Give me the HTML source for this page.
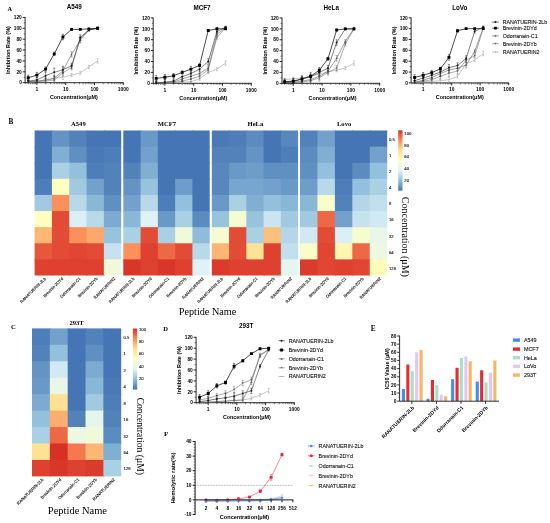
<!DOCTYPE html>
<html><head><meta charset="utf-8"><title>Figure</title>
<style>html,body{margin:0;padding:0;background:#fff}svg{display:block}</style></head>
<body>
<svg width="550" height="523" viewBox="0 0 550 523">
<rect width="550" height="523" fill="#fff"/>
<g>
<rect x="34.60" y="130.50" width="18.32" height="17.11" fill="#4575b4"/>
<rect x="51.92" y="130.50" width="18.32" height="17.11" fill="#6594c4"/>
<rect x="69.24" y="130.50" width="18.32" height="17.11" fill="#5382bb"/>
<rect x="86.56" y="130.50" width="18.32" height="17.11" fill="#4575b4"/>
<rect x="103.88" y="130.50" width="17.32" height="17.11" fill="#4575b4"/>
<rect x="34.60" y="146.61" width="18.32" height="17.11" fill="#4575b4"/>
<rect x="51.92" y="146.61" width="18.32" height="17.11" fill="#80afd2"/>
<rect x="69.24" y="146.61" width="18.32" height="17.11" fill="#6090c2"/>
<rect x="86.56" y="146.61" width="18.32" height="17.11" fill="#4a79b6"/>
<rect x="103.88" y="146.61" width="17.32" height="17.11" fill="#4e7eb9"/>
<rect x="34.60" y="162.72" width="18.32" height="17.11" fill="#4575b4"/>
<rect x="51.92" y="162.72" width="18.32" height="17.11" fill="#aad0e4"/>
<rect x="69.24" y="162.72" width="18.32" height="17.11" fill="#93c0dc"/>
<rect x="86.56" y="162.72" width="18.32" height="17.11" fill="#4e7eb9"/>
<rect x="103.88" y="162.72" width="17.32" height="17.11" fill="#5382bb"/>
<rect x="34.60" y="178.83" width="18.32" height="17.11" fill="#4e7eb9"/>
<rect x="51.92" y="178.83" width="18.32" height="17.11" fill="#ffffbf"/>
<rect x="69.24" y="178.83" width="18.32" height="17.11" fill="#a1c9e1"/>
<rect x="86.56" y="178.83" width="18.32" height="17.11" fill="#73a1cb"/>
<rect x="103.88" y="178.83" width="17.32" height="17.11" fill="#5382bb"/>
<rect x="34.60" y="194.94" width="18.32" height="17.11" fill="#a1c9e1"/>
<rect x="51.92" y="194.94" width="18.32" height="17.11" fill="#fc8f5a"/>
<rect x="69.24" y="194.94" width="18.32" height="17.11" fill="#b8d9ea"/>
<rect x="86.56" y="194.94" width="18.32" height="17.11" fill="#89b8d7"/>
<rect x="103.88" y="194.94" width="17.32" height="17.11" fill="#6090c2"/>
<rect x="34.60" y="211.06" width="18.32" height="17.11" fill="#ffffbf"/>
<rect x="51.92" y="211.06" width="18.32" height="17.11" fill="#e24c36"/>
<rect x="69.24" y="211.06" width="18.32" height="17.11" fill="#daeff6"/>
<rect x="86.56" y="211.06" width="18.32" height="17.11" fill="#b8d9ea"/>
<rect x="103.88" y="211.06" width="17.32" height="17.11" fill="#7caad0"/>
<rect x="34.60" y="227.17" width="18.32" height="17.11" fill="#fdb674"/>
<rect x="51.92" y="227.17" width="18.32" height="17.11" fill="#e24c36"/>
<rect x="69.24" y="227.17" width="18.32" height="17.11" fill="#fc8f5a"/>
<rect x="86.56" y="227.17" width="18.32" height="17.11" fill="#fda86b"/>
<rect x="103.88" y="227.17" width="17.32" height="17.11" fill="#97c3dd"/>
<rect x="34.60" y="243.28" width="18.32" height="17.11" fill="#e7573c"/>
<rect x="51.92" y="243.28" width="18.32" height="17.11" fill="#e24c36"/>
<rect x="69.24" y="243.28" width="18.32" height="17.11" fill="#e04633"/>
<rect x="86.56" y="243.28" width="18.32" height="17.11" fill="#e24c36"/>
<rect x="103.88" y="243.28" width="17.32" height="17.11" fill="#c7e2ef"/>
<rect x="34.60" y="259.39" width="18.32" height="16.11" fill="#de4130"/>
<rect x="51.92" y="259.39" width="18.32" height="16.11" fill="#de4130"/>
<rect x="69.24" y="259.39" width="18.32" height="16.11" fill="#de4130"/>
<rect x="86.56" y="259.39" width="18.32" height="16.11" fill="#de4130"/>
<rect x="103.88" y="259.39" width="17.32" height="16.11" fill="#f0f9da"/>
</g>
<text x="46.26" y="279.00" font-size="4.1" text-anchor="end" font-weight="normal" font-family='"Liberation Sans", Arial, sans-serif' fill="#111" transform="rotate(-45 46.26 279.00)" stroke="#111" stroke-width="0.12">RANATUERIN-2Lb</text>
<text x="63.58" y="279.00" font-size="4.1" text-anchor="end" font-weight="normal" font-family='"Liberation Sans", Arial, sans-serif' fill="#111" transform="rotate(-45 63.58 279.00)" stroke="#111" stroke-width="0.12">Brevinin-2DYd</text>
<text x="80.90" y="279.00" font-size="4.1" text-anchor="end" font-weight="normal" font-family='"Liberation Sans", Arial, sans-serif' fill="#111" transform="rotate(-45 80.90 279.00)" stroke="#111" stroke-width="0.12">Odorranain-C1</text>
<text x="98.22" y="279.00" font-size="4.1" text-anchor="end" font-weight="normal" font-family='"Liberation Sans", Arial, sans-serif' fill="#111" transform="rotate(-45 98.22 279.00)" stroke="#111" stroke-width="0.12">Brevinin-2DYb</text>
<text x="115.54" y="279.00" font-size="4.1" text-anchor="end" font-weight="normal" font-family='"Liberation Sans", Arial, sans-serif' fill="#111" transform="rotate(-45 115.54 279.00)" stroke="#111" stroke-width="0.12">RANATUERIN2</text>
<text x="78.40" y="125.50" font-size="6.6" text-anchor="middle" font-weight="bold" font-family='"Liberation Serif", "Times New Roman", serif' fill="#000">A549</text>
<g>
<rect x="123.30" y="130.50" width="18.28" height="17.11" fill="#4575b4"/>
<rect x="140.58" y="130.50" width="18.28" height="17.11" fill="#6999c7"/>
<rect x="157.86" y="130.50" width="18.28" height="17.11" fill="#4575b4"/>
<rect x="175.14" y="130.50" width="18.28" height="17.11" fill="#4575b4"/>
<rect x="192.42" y="130.50" width="17.28" height="17.11" fill="#4575b4"/>
<rect x="123.30" y="146.61" width="18.28" height="17.11" fill="#4575b4"/>
<rect x="140.58" y="146.61" width="18.28" height="17.11" fill="#73a1cb"/>
<rect x="157.86" y="146.61" width="18.28" height="17.11" fill="#4575b4"/>
<rect x="175.14" y="146.61" width="18.28" height="17.11" fill="#4575b4"/>
<rect x="192.42" y="146.61" width="17.28" height="17.11" fill="#4575b4"/>
<rect x="123.30" y="162.72" width="18.28" height="17.11" fill="#5382bb"/>
<rect x="140.58" y="162.72" width="18.28" height="17.11" fill="#80afd2"/>
<rect x="157.86" y="162.72" width="18.28" height="17.11" fill="#4575b4"/>
<rect x="175.14" y="162.72" width="18.28" height="17.11" fill="#4575b4"/>
<rect x="192.42" y="162.72" width="17.28" height="17.11" fill="#4575b4"/>
<rect x="123.30" y="178.83" width="18.28" height="17.11" fill="#6594c4"/>
<rect x="140.58" y="178.83" width="18.28" height="17.11" fill="#97c3dd"/>
<rect x="157.86" y="178.83" width="18.28" height="17.11" fill="#4575b4"/>
<rect x="175.14" y="178.83" width="18.28" height="17.11" fill="#6e9dc9"/>
<rect x="192.42" y="178.83" width="17.28" height="17.11" fill="#4575b4"/>
<rect x="123.30" y="194.94" width="18.28" height="17.11" fill="#73a1cb"/>
<rect x="140.58" y="194.94" width="18.28" height="17.11" fill="#b8d9ea"/>
<rect x="157.86" y="194.94" width="18.28" height="17.11" fill="#4e7eb9"/>
<rect x="175.14" y="194.94" width="18.28" height="17.11" fill="#93c0dc"/>
<rect x="192.42" y="194.94" width="17.28" height="17.11" fill="#4575b4"/>
<rect x="123.30" y="211.06" width="18.28" height="17.11" fill="#89b8d7"/>
<rect x="140.58" y="211.06" width="18.28" height="17.11" fill="#def2f7"/>
<rect x="157.86" y="211.06" width="18.28" height="17.11" fill="#6999c7"/>
<rect x="175.14" y="211.06" width="18.28" height="17.11" fill="#aad0e4"/>
<rect x="192.42" y="211.06" width="17.28" height="17.11" fill="#5c8bc0"/>
<rect x="123.30" y="227.17" width="18.28" height="17.11" fill="#aad0e4"/>
<rect x="140.58" y="227.17" width="18.28" height="17.11" fill="#e24c36"/>
<rect x="157.86" y="227.17" width="18.28" height="17.11" fill="#aad0e4"/>
<rect x="175.14" y="227.17" width="18.28" height="17.11" fill="#f0f9da"/>
<rect x="192.42" y="227.17" width="17.28" height="17.11" fill="#8ebcd9"/>
<rect x="123.30" y="243.28" width="18.28" height="17.11" fill="#fc8f5a"/>
<rect x="140.58" y="243.28" width="18.28" height="17.11" fill="#de4130"/>
<rect x="157.86" y="243.28" width="18.28" height="17.11" fill="#ed6845"/>
<rect x="175.14" y="243.28" width="18.28" height="17.11" fill="#e24c36"/>
<rect x="192.42" y="243.28" width="17.28" height="17.11" fill="#b8d9ea"/>
<rect x="123.30" y="259.39" width="18.28" height="16.11" fill="#d9362a"/>
<rect x="140.58" y="259.39" width="18.28" height="16.11" fill="#de4130"/>
<rect x="157.86" y="259.39" width="18.28" height="16.11" fill="#d9362a"/>
<rect x="175.14" y="259.39" width="18.28" height="16.11" fill="#de4130"/>
<rect x="192.42" y="259.39" width="17.28" height="16.11" fill="#def2f7"/>
</g>
<text x="134.94" y="279.00" font-size="4.1" text-anchor="end" font-weight="normal" font-family='"Liberation Sans", Arial, sans-serif' fill="#111" transform="rotate(-45 134.94 279.00)" stroke="#111" stroke-width="0.12">RANATUERIN-2Lb</text>
<text x="152.22" y="279.00" font-size="4.1" text-anchor="end" font-weight="normal" font-family='"Liberation Sans", Arial, sans-serif' fill="#111" transform="rotate(-45 152.22 279.00)" stroke="#111" stroke-width="0.12">Brevinin-2DYd</text>
<text x="169.50" y="279.00" font-size="4.1" text-anchor="end" font-weight="normal" font-family='"Liberation Sans", Arial, sans-serif' fill="#111" transform="rotate(-45 169.50 279.00)" stroke="#111" stroke-width="0.12">Odorranain-C1</text>
<text x="186.78" y="279.00" font-size="4.1" text-anchor="end" font-weight="normal" font-family='"Liberation Sans", Arial, sans-serif' fill="#111" transform="rotate(-45 186.78 279.00)" stroke="#111" stroke-width="0.12">Brevinin-2DYb</text>
<text x="204.06" y="279.00" font-size="4.1" text-anchor="end" font-weight="normal" font-family='"Liberation Sans", Arial, sans-serif' fill="#111" transform="rotate(-45 204.06 279.00)" stroke="#111" stroke-width="0.12">RANATUERIN2</text>
<text x="167.00" y="125.50" font-size="6.6" text-anchor="middle" font-weight="bold" font-family='"Liberation Serif", "Times New Roman", serif' fill="#000">MCF7</text>
<g>
<rect x="211.80" y="130.50" width="18.26" height="17.11" fill="#4a79b6"/>
<rect x="229.06" y="130.50" width="18.26" height="17.11" fill="#4e7eb9"/>
<rect x="246.32" y="130.50" width="18.26" height="17.11" fill="#5c8bc0"/>
<rect x="263.58" y="130.50" width="18.26" height="17.11" fill="#4575b4"/>
<rect x="280.84" y="130.50" width="17.26" height="17.11" fill="#5787bd"/>
<rect x="211.80" y="146.61" width="18.26" height="17.11" fill="#5382bb"/>
<rect x="229.06" y="146.61" width="18.26" height="17.11" fill="#5382bb"/>
<rect x="246.32" y="146.61" width="18.26" height="17.11" fill="#6594c4"/>
<rect x="263.58" y="146.61" width="18.26" height="17.11" fill="#4575b4"/>
<rect x="280.84" y="146.61" width="17.26" height="17.11" fill="#4e7eb9"/>
<rect x="211.80" y="162.72" width="18.26" height="17.11" fill="#5787bd"/>
<rect x="229.06" y="162.72" width="18.26" height="17.11" fill="#6999c7"/>
<rect x="246.32" y="162.72" width="18.26" height="17.11" fill="#6e9dc9"/>
<rect x="263.58" y="162.72" width="18.26" height="17.11" fill="#6090c2"/>
<rect x="280.84" y="162.72" width="17.26" height="17.11" fill="#6090c2"/>
<rect x="211.80" y="178.83" width="18.26" height="17.11" fill="#5787bd"/>
<rect x="229.06" y="178.83" width="18.26" height="17.11" fill="#77a6ce"/>
<rect x="246.32" y="178.83" width="18.26" height="17.11" fill="#77a6ce"/>
<rect x="263.58" y="178.83" width="18.26" height="17.11" fill="#73a1cb"/>
<rect x="280.84" y="178.83" width="17.26" height="17.11" fill="#6999c7"/>
<rect x="211.80" y="194.94" width="18.26" height="17.11" fill="#6999c7"/>
<rect x="229.06" y="194.94" width="18.26" height="17.11" fill="#aad0e4"/>
<rect x="246.32" y="194.94" width="18.26" height="17.11" fill="#80afd2"/>
<rect x="263.58" y="194.94" width="18.26" height="17.11" fill="#93c0dc"/>
<rect x="280.84" y="194.94" width="17.26" height="17.11" fill="#89b8d7"/>
<rect x="211.80" y="211.06" width="18.26" height="17.11" fill="#97c3dd"/>
<rect x="229.06" y="211.06" width="18.26" height="17.11" fill="#f6fbd0"/>
<rect x="246.32" y="211.06" width="18.26" height="17.11" fill="#97c3dd"/>
<rect x="263.58" y="211.06" width="18.26" height="17.11" fill="#cbe5f0"/>
<rect x="280.84" y="211.06" width="17.26" height="17.11" fill="#a1c9e1"/>
<rect x="211.80" y="227.17" width="18.26" height="17.11" fill="#f6fbd0"/>
<rect x="229.06" y="227.17" width="18.26" height="17.11" fill="#e24c36"/>
<rect x="246.32" y="227.17" width="18.26" height="17.11" fill="#aad0e4"/>
<rect x="263.58" y="227.17" width="18.26" height="17.11" fill="#fdc07b"/>
<rect x="280.84" y="227.17" width="17.26" height="17.11" fill="#b4d6e8"/>
<rect x="211.80" y="243.28" width="18.26" height="17.11" fill="#fdb674"/>
<rect x="229.06" y="243.28" width="18.26" height="17.11" fill="#e24c36"/>
<rect x="246.32" y="243.28" width="18.26" height="17.11" fill="#fee395"/>
<rect x="263.58" y="243.28" width="18.26" height="17.11" fill="#de4130"/>
<rect x="280.84" y="243.28" width="17.26" height="17.11" fill="#c2dfed"/>
<rect x="211.80" y="259.39" width="18.26" height="16.11" fill="#db3b2d"/>
<rect x="229.06" y="259.39" width="18.26" height="16.11" fill="#de4130"/>
<rect x="246.32" y="259.39" width="18.26" height="16.11" fill="#de4130"/>
<rect x="263.58" y="259.39" width="18.26" height="16.11" fill="#de4130"/>
<rect x="280.84" y="259.39" width="17.26" height="16.11" fill="#e5f5ef"/>
</g>
<text x="223.43" y="279.00" font-size="4.1" text-anchor="end" font-weight="normal" font-family='"Liberation Sans", Arial, sans-serif' fill="#111" transform="rotate(-45 223.43 279.00)" stroke="#111" stroke-width="0.12">RANATUERIN-2Lb</text>
<text x="240.69" y="279.00" font-size="4.1" text-anchor="end" font-weight="normal" font-family='"Liberation Sans", Arial, sans-serif' fill="#111" transform="rotate(-45 240.69 279.00)" stroke="#111" stroke-width="0.12">Brevinin-2DYd</text>
<text x="257.95" y="279.00" font-size="4.1" text-anchor="end" font-weight="normal" font-family='"Liberation Sans", Arial, sans-serif' fill="#111" transform="rotate(-45 257.95 279.00)" stroke="#111" stroke-width="0.12">Odorranain-C1</text>
<text x="275.21" y="279.00" font-size="4.1" text-anchor="end" font-weight="normal" font-family='"Liberation Sans", Arial, sans-serif' fill="#111" transform="rotate(-45 275.21 279.00)" stroke="#111" stroke-width="0.12">Brevinin-2DYb</text>
<text x="292.47" y="279.00" font-size="4.1" text-anchor="end" font-weight="normal" font-family='"Liberation Sans", Arial, sans-serif' fill="#111" transform="rotate(-45 292.47 279.00)" stroke="#111" stroke-width="0.12">RANATUERIN2</text>
<text x="255.45" y="125.50" font-size="6.6" text-anchor="middle" font-weight="bold" font-family='"Liberation Serif", "Times New Roman", serif' fill="#000">HeLa</text>
<g>
<rect x="300.00" y="130.50" width="18.44" height="17.11" fill="#5382bb"/>
<rect x="317.44" y="130.50" width="18.44" height="17.11" fill="#73a1cb"/>
<rect x="334.88" y="130.50" width="18.44" height="17.11" fill="#4575b4"/>
<rect x="352.32" y="130.50" width="18.44" height="17.11" fill="#4575b4"/>
<rect x="369.76" y="130.50" width="17.44" height="17.11" fill="#4575b4"/>
<rect x="300.00" y="146.61" width="18.44" height="17.11" fill="#5c8bc0"/>
<rect x="317.44" y="146.61" width="18.44" height="17.11" fill="#80afd2"/>
<rect x="334.88" y="146.61" width="18.44" height="17.11" fill="#4575b4"/>
<rect x="352.32" y="146.61" width="18.44" height="17.11" fill="#4575b4"/>
<rect x="369.76" y="146.61" width="17.44" height="17.11" fill="#73a1cb"/>
<rect x="300.00" y="162.72" width="18.44" height="17.11" fill="#6090c2"/>
<rect x="317.44" y="162.72" width="18.44" height="17.11" fill="#93c0dc"/>
<rect x="334.88" y="162.72" width="18.44" height="17.11" fill="#4575b4"/>
<rect x="352.32" y="162.72" width="18.44" height="17.11" fill="#5c8bc0"/>
<rect x="369.76" y="162.72" width="17.44" height="17.11" fill="#93c0dc"/>
<rect x="300.00" y="178.83" width="18.44" height="17.11" fill="#6e9dc9"/>
<rect x="317.44" y="178.83" width="18.44" height="17.11" fill="#b8d9ea"/>
<rect x="334.88" y="178.83" width="18.44" height="17.11" fill="#4e7eb9"/>
<rect x="352.32" y="178.83" width="18.44" height="17.11" fill="#93c0dc"/>
<rect x="369.76" y="178.83" width="17.44" height="17.11" fill="#aad0e4"/>
<rect x="300.00" y="194.94" width="18.44" height="17.11" fill="#89b8d7"/>
<rect x="317.44" y="194.94" width="18.44" height="17.11" fill="#f9fdc9"/>
<rect x="334.88" y="194.94" width="18.44" height="17.11" fill="#5382bb"/>
<rect x="352.32" y="194.94" width="18.44" height="17.11" fill="#b4d6e8"/>
<rect x="369.76" y="194.94" width="17.44" height="17.11" fill="#c2dfed"/>
<rect x="300.00" y="211.06" width="18.44" height="17.11" fill="#a1c9e1"/>
<rect x="317.44" y="211.06" width="18.44" height="17.11" fill="#ed6845"/>
<rect x="334.88" y="211.06" width="18.44" height="17.11" fill="#73a1cb"/>
<rect x="352.32" y="211.06" width="18.44" height="17.11" fill="#c7e2ef"/>
<rect x="369.76" y="211.06" width="17.44" height="17.11" fill="#d0e9f2"/>
<rect x="300.00" y="227.17" width="18.44" height="17.11" fill="#d0e9f2"/>
<rect x="317.44" y="227.17" width="18.44" height="17.11" fill="#e24c36"/>
<rect x="334.88" y="227.17" width="18.44" height="17.11" fill="#daeff6"/>
<rect x="352.32" y="227.17" width="18.44" height="17.11" fill="#f8fccd"/>
<rect x="369.76" y="227.17" width="17.44" height="17.11" fill="#e9f6e8"/>
<rect x="300.00" y="243.28" width="18.44" height="17.11" fill="#f9fdc9"/>
<rect x="317.44" y="243.28" width="18.44" height="17.11" fill="#e04633"/>
<rect x="334.88" y="243.28" width="18.44" height="17.11" fill="#fff6b1"/>
<rect x="352.32" y="243.28" width="18.44" height="17.11" fill="#ed6845"/>
<rect x="369.76" y="243.28" width="17.44" height="17.11" fill="#ecf8e1"/>
<rect x="300.00" y="259.39" width="18.44" height="16.11" fill="#db3b2d"/>
<rect x="317.44" y="259.39" width="18.44" height="16.11" fill="#e04633"/>
<rect x="334.88" y="259.39" width="18.44" height="16.11" fill="#de4130"/>
<rect x="352.32" y="259.39" width="18.44" height="16.11" fill="#e04633"/>
<rect x="369.76" y="259.39" width="17.44" height="16.11" fill="#fffbb9"/>
</g>
<text x="311.72" y="279.00" font-size="4.1" text-anchor="end" font-weight="normal" font-family='"Liberation Sans", Arial, sans-serif' fill="#111" transform="rotate(-45 311.72 279.00)" stroke="#111" stroke-width="0.12">RANATUERIN-2Lb</text>
<text x="329.16" y="279.00" font-size="4.1" text-anchor="end" font-weight="normal" font-family='"Liberation Sans", Arial, sans-serif' fill="#111" transform="rotate(-45 329.16 279.00)" stroke="#111" stroke-width="0.12">Brevinin-2DYd</text>
<text x="346.60" y="279.00" font-size="4.1" text-anchor="end" font-weight="normal" font-family='"Liberation Sans", Arial, sans-serif' fill="#111" transform="rotate(-45 346.60 279.00)" stroke="#111" stroke-width="0.12">Odorranain-C1</text>
<text x="364.04" y="279.00" font-size="4.1" text-anchor="end" font-weight="normal" font-family='"Liberation Sans", Arial, sans-serif' fill="#111" transform="rotate(-45 364.04 279.00)" stroke="#111" stroke-width="0.12">Brevinin-2DYb</text>
<text x="381.48" y="279.00" font-size="4.1" text-anchor="end" font-weight="normal" font-family='"Liberation Sans", Arial, sans-serif' fill="#111" transform="rotate(-45 381.48 279.00)" stroke="#111" stroke-width="0.12">RANATUERIN2</text>
<text x="344.10" y="125.50" font-size="6.6" text-anchor="middle" font-weight="bold" font-family='"Liberation Serif", "Times New Roman", serif' fill="#000">Lovo</text>
<text x="389.00" y="140.86" font-size="4.2" text-anchor="start" font-weight="normal" font-family='"Liberation Sans", Arial, sans-serif' fill="#111" stroke="#111" stroke-width="0.1">0.5</text>
<text x="389.00" y="156.97" font-size="4.2" text-anchor="start" font-weight="normal" font-family='"Liberation Sans", Arial, sans-serif' fill="#111" stroke="#111" stroke-width="0.1">1</text>
<text x="389.00" y="173.08" font-size="4.2" text-anchor="start" font-weight="normal" font-family='"Liberation Sans", Arial, sans-serif' fill="#111" stroke="#111" stroke-width="0.1">2</text>
<text x="389.00" y="189.19" font-size="4.2" text-anchor="start" font-weight="normal" font-family='"Liberation Sans", Arial, sans-serif' fill="#111" stroke="#111" stroke-width="0.1">4</text>
<text x="389.00" y="205.30" font-size="4.2" text-anchor="start" font-weight="normal" font-family='"Liberation Sans", Arial, sans-serif' fill="#111" stroke="#111" stroke-width="0.1">8</text>
<text x="389.00" y="221.41" font-size="4.2" text-anchor="start" font-weight="normal" font-family='"Liberation Sans", Arial, sans-serif' fill="#111" stroke="#111" stroke-width="0.1">16</text>
<text x="389.00" y="237.52" font-size="4.2" text-anchor="start" font-weight="normal" font-family='"Liberation Sans", Arial, sans-serif' fill="#111" stroke="#111" stroke-width="0.1">32</text>
<text x="389.00" y="253.63" font-size="4.2" text-anchor="start" font-weight="normal" font-family='"Liberation Sans", Arial, sans-serif' fill="#111" stroke="#111" stroke-width="0.1">64</text>
<text x="389.00" y="269.74" font-size="4.2" text-anchor="start" font-weight="normal" font-family='"Liberation Sans", Arial, sans-serif' fill="#111" stroke="#111" stroke-width="0.1">128</text>
<defs><linearGradient id="gB" x1="0" y1="1" x2="0" y2="0">
<stop offset="0.0000" stop-color="#4575B4"/>
<stop offset="0.1667" stop-color="#91BFDB"/>
<stop offset="0.3333" stop-color="#E0F3F8"/>
<stop offset="0.5000" stop-color="#FFFFBF"/>
<stop offset="0.6667" stop-color="#FEE090"/>
<stop offset="0.8333" stop-color="#FC8D59"/>
<stop offset="1.0000" stop-color="#D73027"/>
</linearGradient></defs>
<rect x="398.2" y="130.3" width="4.3" height="60.4" fill="url(#gB)"/>
<text x="404.30" y="134.80" font-size="4.2" text-anchor="start" font-weight="normal" font-family='"Liberation Sans", Arial, sans-serif' fill="#111" stroke="#111" stroke-width="0.1">100</text>
<text x="404.30" y="146.50" font-size="4.2" text-anchor="start" font-weight="normal" font-family='"Liberation Sans", Arial, sans-serif' fill="#111" stroke="#111" stroke-width="0.1">80</text>
<text x="404.30" y="158.10" font-size="4.2" text-anchor="start" font-weight="normal" font-family='"Liberation Sans", Arial, sans-serif' fill="#111" stroke="#111" stroke-width="0.1">60</text>
<text x="404.30" y="169.90" font-size="4.2" text-anchor="start" font-weight="normal" font-family='"Liberation Sans", Arial, sans-serif' fill="#111" stroke="#111" stroke-width="0.1">40</text>
<text x="404.30" y="181.50" font-size="4.2" text-anchor="start" font-weight="normal" font-family='"Liberation Sans", Arial, sans-serif' fill="#111" stroke="#111" stroke-width="0.1">20</text>
<text x="10.90" y="123.60" font-size="7.2" text-anchor="middle" font-weight="bold" font-family='"Liberation Serif", "Times New Roman", serif' fill="#000">B</text>
<text x="207.50" y="314.50" font-size="10.2" text-anchor="middle" font-weight="normal" font-family='"Liberation Serif", "Times New Roman", serif' fill="#000">Peptide Name</text>
<text x="402.20" y="236.90" font-size="10" text-anchor="middle" font-weight="normal" font-family='"Liberation Serif", "Times New Roman", serif' fill="#000" transform="rotate(90 402.20 236.90)">Concentration (μM)</text>
<g>
<rect x="32.00" y="328.40" width="18.84" height="17.44" fill="#4e7eb9"/>
<rect x="49.84" y="328.40" width="18.84" height="17.44" fill="#73a1cb"/>
<rect x="67.68" y="328.40" width="18.84" height="17.44" fill="#4575b4"/>
<rect x="85.52" y="328.40" width="18.84" height="17.44" fill="#5382bb"/>
<rect x="103.36" y="328.40" width="17.84" height="17.44" fill="#4575b4"/>
<rect x="32.00" y="344.84" width="18.84" height="17.44" fill="#5382bb"/>
<rect x="49.84" y="344.84" width="18.84" height="17.44" fill="#93c0dc"/>
<rect x="67.68" y="344.84" width="18.84" height="17.44" fill="#4575b4"/>
<rect x="85.52" y="344.84" width="18.84" height="17.44" fill="#6090c2"/>
<rect x="103.36" y="344.84" width="17.84" height="17.44" fill="#4575b4"/>
<rect x="32.00" y="361.29" width="18.84" height="17.44" fill="#6594c4"/>
<rect x="49.84" y="361.29" width="18.84" height="17.44" fill="#d0e9f2"/>
<rect x="67.68" y="361.29" width="18.84" height="17.44" fill="#4575b4"/>
<rect x="85.52" y="361.29" width="18.84" height="17.44" fill="#7caad0"/>
<rect x="103.36" y="361.29" width="17.84" height="17.44" fill="#4575b4"/>
<rect x="32.00" y="377.73" width="18.84" height="17.44" fill="#6999c7"/>
<rect x="49.84" y="377.73" width="18.84" height="17.44" fill="#e9f6e8"/>
<rect x="67.68" y="377.73" width="18.84" height="17.44" fill="#4575b4"/>
<rect x="85.52" y="377.73" width="18.84" height="17.44" fill="#89b8d7"/>
<rect x="103.36" y="377.73" width="17.84" height="17.44" fill="#4a79b6"/>
<rect x="32.00" y="394.18" width="18.84" height="17.44" fill="#7caad0"/>
<rect x="49.84" y="394.18" width="18.84" height="17.44" fill="#fee192"/>
<rect x="67.68" y="394.18" width="18.84" height="17.44" fill="#4575b4"/>
<rect x="85.52" y="394.18" width="18.84" height="17.44" fill="#a1c9e1"/>
<rect x="103.36" y="394.18" width="17.84" height="17.44" fill="#4e7eb9"/>
<rect x="32.00" y="410.62" width="18.84" height="17.44" fill="#93c0dc"/>
<rect x="49.84" y="410.62" width="18.84" height="17.44" fill="#fdad6e"/>
<rect x="67.68" y="410.62" width="18.84" height="17.44" fill="#5382bb"/>
<rect x="85.52" y="410.62" width="18.84" height="17.44" fill="#e7f6eb"/>
<rect x="103.36" y="410.62" width="17.84" height="17.44" fill="#5382bb"/>
<rect x="32.00" y="427.07" width="18.84" height="17.44" fill="#aad0e4"/>
<rect x="49.84" y="427.07" width="18.84" height="17.44" fill="#ed6845"/>
<rect x="67.68" y="427.07" width="18.84" height="17.44" fill="#ecf8e1"/>
<rect x="85.52" y="427.07" width="18.84" height="17.44" fill="#f0f9da"/>
<rect x="103.36" y="427.07" width="17.84" height="17.44" fill="#5c8bc0"/>
<rect x="32.00" y="443.51" width="18.84" height="17.44" fill="#fee192"/>
<rect x="49.84" y="443.51" width="18.84" height="17.44" fill="#d73027"/>
<rect x="67.68" y="443.51" width="18.84" height="17.44" fill="#f4794e"/>
<rect x="85.52" y="443.51" width="18.84" height="17.44" fill="#fdb674"/>
<rect x="103.36" y="443.51" width="17.84" height="17.44" fill="#80afd2"/>
<rect x="32.00" y="459.96" width="18.84" height="16.44" fill="#de4130"/>
<rect x="49.84" y="459.96" width="18.84" height="16.44" fill="#d9362a"/>
<rect x="67.68" y="459.96" width="18.84" height="16.44" fill="#de4130"/>
<rect x="85.52" y="459.96" width="18.84" height="16.44" fill="#db3b2d"/>
<rect x="103.36" y="459.96" width="17.84" height="16.44" fill="#aad0e4"/>
</g>
<text x="43.92" y="479.90" font-size="4.25" text-anchor="end" font-weight="normal" font-family='"Liberation Sans", Arial, sans-serif' fill="#111" transform="rotate(-45 43.92 479.90)" stroke="#111" stroke-width="0.12">RANATUERIN-2Lb</text>
<text x="61.76" y="479.90" font-size="4.25" text-anchor="end" font-weight="normal" font-family='"Liberation Sans", Arial, sans-serif' fill="#111" transform="rotate(-45 61.76 479.90)" stroke="#111" stroke-width="0.12">Brevinin-2DYd</text>
<text x="79.60" y="479.90" font-size="4.25" text-anchor="end" font-weight="normal" font-family='"Liberation Sans", Arial, sans-serif' fill="#111" transform="rotate(-45 79.60 479.90)" stroke="#111" stroke-width="0.12">Odorranain-C1</text>
<text x="97.44" y="479.90" font-size="4.25" text-anchor="end" font-weight="normal" font-family='"Liberation Sans", Arial, sans-serif' fill="#111" transform="rotate(-45 97.44 479.90)" stroke="#111" stroke-width="0.12">Brevinin-2DYb</text>
<text x="115.28" y="479.90" font-size="4.25" text-anchor="end" font-weight="normal" font-family='"Liberation Sans", Arial, sans-serif' fill="#111" transform="rotate(-45 115.28 479.90)" stroke="#111" stroke-width="0.12">RANATUERIN2</text>
<text x="76.60" y="325.20" font-size="6.6" text-anchor="middle" font-weight="bold" font-family='"Liberation Serif", "Times New Roman", serif' fill="#000">293T</text>
<text x="123.60" y="338.73" font-size="4.2" text-anchor="start" font-weight="normal" font-family='"Liberation Sans", Arial, sans-serif' fill="#111" stroke="#111" stroke-width="0.1">0.5</text>
<text x="123.60" y="355.20" font-size="4.2" text-anchor="start" font-weight="normal" font-family='"Liberation Sans", Arial, sans-serif' fill="#111" stroke="#111" stroke-width="0.1">1</text>
<text x="123.60" y="371.67" font-size="4.2" text-anchor="start" font-weight="normal" font-family='"Liberation Sans", Arial, sans-serif' fill="#111" stroke="#111" stroke-width="0.1">2</text>
<text x="123.60" y="388.13" font-size="4.2" text-anchor="start" font-weight="normal" font-family='"Liberation Sans", Arial, sans-serif' fill="#111" stroke="#111" stroke-width="0.1">4</text>
<text x="123.60" y="404.60" font-size="4.2" text-anchor="start" font-weight="normal" font-family='"Liberation Sans", Arial, sans-serif' fill="#111" stroke="#111" stroke-width="0.1">8</text>
<text x="123.60" y="421.07" font-size="4.2" text-anchor="start" font-weight="normal" font-family='"Liberation Sans", Arial, sans-serif' fill="#111" stroke="#111" stroke-width="0.1">16</text>
<text x="123.60" y="437.53" font-size="4.2" text-anchor="start" font-weight="normal" font-family='"Liberation Sans", Arial, sans-serif' fill="#111" stroke="#111" stroke-width="0.1">32</text>
<text x="123.60" y="454.00" font-size="4.2" text-anchor="start" font-weight="normal" font-family='"Liberation Sans", Arial, sans-serif' fill="#111" stroke="#111" stroke-width="0.1">64</text>
<text x="123.60" y="470.47" font-size="4.2" text-anchor="start" font-weight="normal" font-family='"Liberation Sans", Arial, sans-serif' fill="#111" stroke="#111" stroke-width="0.1">128</text>
<defs><linearGradient id="gC" x1="0" y1="1" x2="0" y2="0">
<stop offset="0.0000" stop-color="#4575B4"/>
<stop offset="0.1667" stop-color="#91BFDB"/>
<stop offset="0.3333" stop-color="#E0F3F8"/>
<stop offset="0.5000" stop-color="#FFFFBF"/>
<stop offset="0.6667" stop-color="#FEE090"/>
<stop offset="0.8333" stop-color="#FC8D59"/>
<stop offset="1.0000" stop-color="#D73027"/>
</linearGradient></defs>
<rect x="132.9" y="328.5" width="4.3" height="61.1" fill="url(#gC)"/>
<text x="139.00" y="330.90" font-size="4.2" text-anchor="start" font-weight="normal" font-family='"Liberation Sans", Arial, sans-serif' fill="#111" stroke="#111" stroke-width="0.1">100</text>
<text x="139.00" y="342.80" font-size="4.2" text-anchor="start" font-weight="normal" font-family='"Liberation Sans", Arial, sans-serif' fill="#111" stroke="#111" stroke-width="0.1">80</text>
<text x="139.00" y="355.00" font-size="4.2" text-anchor="start" font-weight="normal" font-family='"Liberation Sans", Arial, sans-serif' fill="#111" stroke="#111" stroke-width="0.1">60</text>
<text x="139.00" y="367.50" font-size="4.2" text-anchor="start" font-weight="normal" font-family='"Liberation Sans", Arial, sans-serif' fill="#111" stroke="#111" stroke-width="0.1">40</text>
<text x="139.00" y="379.50" font-size="4.2" text-anchor="start" font-weight="normal" font-family='"Liberation Sans", Arial, sans-serif' fill="#111" stroke="#111" stroke-width="0.1">20</text>
<text x="13.30" y="329.40" font-size="6.7" text-anchor="middle" font-weight="bold" font-family='"Liberation Serif", "Times New Roman", serif' fill="#000">C</text>
<text x="77.40" y="513.50" font-size="10.5" text-anchor="middle" font-weight="normal" font-family='"Liberation Serif", "Times New Roman", serif' fill="#000">Peptide Name</text>
<text x="136.60" y="436.30" font-size="9.7" text-anchor="middle" font-weight="normal" font-family='"Liberation Serif", "Times New Roman", serif' fill="#000" transform="rotate(90 136.60 436.30)">Concentration (μM)</text>
<g stroke="#111" stroke-width="0.9" fill="none">
<path d="M25.10 17.00V82.70H123.70"/>
<path d="M22.70 82.70H25.10"/>
<path d="M22.70 71.82H25.10"/>
<path d="M22.70 60.93H25.10"/>
<path d="M22.70 50.05H25.10"/>
<path d="M22.70 39.17H25.10"/>
<path d="M22.70 28.28H25.10"/>
<path d="M22.70 17.40H25.10"/>
<path d="M36.90 82.70v2.4"/>
<path d="M65.70 82.70v2.4"/>
<path d="M94.50 82.70v2.4"/>
<path d="M123.30 82.70v2.4"/>
</g>
<g stroke="#111" stroke-width="0.55" fill="none">
<path d="M23.70 77.26H25.10"/>
<path d="M23.70 66.38H25.10"/>
<path d="M23.70 55.49H25.10"/>
<path d="M23.70 44.61H25.10"/>
<path d="M23.70 33.72H25.10"/>
<path d="M23.70 22.84H25.10"/>
<path d="M25.44 82.70v1.5"/>
<path d="M28.23 82.70v1.5"/>
<path d="M30.51 82.70v1.5"/>
<path d="M32.44 82.70v1.5"/>
<path d="M34.11 82.70v1.5"/>
<path d="M35.58 82.70v1.5"/>
<path d="M45.57 82.70v1.5"/>
<path d="M50.64 82.70v1.5"/>
<path d="M54.24 82.70v1.5"/>
<path d="M57.03 82.70v1.5"/>
<path d="M59.31 82.70v1.5"/>
<path d="M61.24 82.70v1.5"/>
<path d="M62.91 82.70v1.5"/>
<path d="M64.38 82.70v1.5"/>
<path d="M74.37 82.70v1.5"/>
<path d="M79.44 82.70v1.5"/>
<path d="M83.04 82.70v1.5"/>
<path d="M85.83 82.70v1.5"/>
<path d="M88.11 82.70v1.5"/>
<path d="M90.04 82.70v1.5"/>
<path d="M91.71 82.70v1.5"/>
<path d="M93.18 82.70v1.5"/>
<path d="M103.17 82.70v1.5"/>
<path d="M108.24 82.70v1.5"/>
<path d="M111.84 82.70v1.5"/>
<path d="M114.63 82.70v1.5"/>
<path d="M116.91 82.70v1.5"/>
<path d="M118.84 82.70v1.5"/>
<path d="M120.51 82.70v1.5"/>
<path d="M121.98 82.70v1.5"/>
</g>
<text x="21.80" y="84.40" font-size="4.8" text-anchor="end" font-weight="bold" font-family='"Liberation Sans", Arial, sans-serif' fill="#000">0</text>
<text x="21.80" y="73.52" font-size="4.8" text-anchor="end" font-weight="bold" font-family='"Liberation Sans", Arial, sans-serif' fill="#000">20</text>
<text x="21.80" y="62.63" font-size="4.8" text-anchor="end" font-weight="bold" font-family='"Liberation Sans", Arial, sans-serif' fill="#000">40</text>
<text x="21.80" y="51.75" font-size="4.8" text-anchor="end" font-weight="bold" font-family='"Liberation Sans", Arial, sans-serif' fill="#000">60</text>
<text x="21.80" y="40.87" font-size="4.8" text-anchor="end" font-weight="bold" font-family='"Liberation Sans", Arial, sans-serif' fill="#000">80</text>
<text x="21.80" y="29.98" font-size="4.8" text-anchor="end" font-weight="bold" font-family='"Liberation Sans", Arial, sans-serif' fill="#000">100</text>
<text x="21.80" y="19.10" font-size="4.8" text-anchor="end" font-weight="bold" font-family='"Liberation Sans", Arial, sans-serif' fill="#000">120</text>
<text x="36.90" y="90.90" font-size="4.9" text-anchor="middle" font-weight="bold" font-family='"Liberation Sans", Arial, sans-serif' fill="#000">1</text>
<text x="65.70" y="90.90" font-size="4.9" text-anchor="middle" font-weight="bold" font-family='"Liberation Sans", Arial, sans-serif' fill="#000">10</text>
<text x="94.50" y="90.90" font-size="4.9" text-anchor="middle" font-weight="bold" font-family='"Liberation Sans", Arial, sans-serif' fill="#000">100</text>
<text x="123.30" y="90.90" font-size="4.9" text-anchor="middle" font-weight="bold" font-family='"Liberation Sans", Arial, sans-serif' fill="#000">1000</text>
<text x="73.90" y="99.10" font-size="5.4" text-anchor="middle" font-weight="bold" font-family='"Liberation Sans", Arial, sans-serif' fill="#000">Concentration(μM)</text>
<text x="10.30" y="50.05" font-size="5.45" text-anchor="middle" font-weight="bold" font-family='"Liberation Sans", Arial, sans-serif' fill="#000" transform="rotate(-90 10.30 50.05)">Inhibition Rate (%)</text>
<text x="74.30" y="8.70" font-size="6.3" text-anchor="middle" font-weight="bold" font-family='"Liberation Sans", Arial, sans-serif' fill="#000">A549</text>
<polyline points="28.23,82.16 36.90,81.61 45.57,79.98 54.24,78.35 62.91,77.26 71.58,75.08 80.25,72.91 88.92,66.92 97.59,60.93" fill="none" stroke="#999" stroke-width="0.55"/>
<g stroke="#999" stroke-width="0.45">
<path d="M28.23 81.07V82.70M27.13 81.07h2.2M27.13 82.70h2.2"/>
<path d="M36.90 79.98V82.70M35.80 79.98h2.2M35.80 82.70h2.2"/>
<path d="M45.57 78.35V81.61M44.47 78.35h2.2M44.47 81.61h2.2"/>
<path d="M54.24 76.17V80.52M53.14 76.17h2.2M53.14 80.52h2.2"/>
<path d="M62.91 75.08V79.44M61.81 75.08h2.2M61.81 79.44h2.2"/>
<path d="M71.58 73.45V76.71M70.48 73.45h2.2M70.48 76.71h2.2"/>
<path d="M80.25 71.27V74.54M79.15 71.27h2.2M79.15 74.54h2.2"/>
<path d="M88.92 65.29V68.55M87.82 65.29h2.2M87.82 68.55h2.2"/>
<path d="M97.59 58.76V63.11M96.49 58.76h2.2M96.49 63.11h2.2"/>
</g>
<polyline points="28.23,82.16 36.90,81.61 45.57,81.07 54.24,79.98 62.91,72.91 71.58,67.46 80.25,39.17 88.92,29.37 97.59,28.28" fill="none" stroke="#686868" stroke-width="0.55"/>
<g stroke="#686868" stroke-width="0.45">
<path d="M28.23 80.52V82.70M27.13 80.52h2.2M27.13 82.70h2.2"/>
<path d="M36.90 79.98V82.70M35.80 79.98h2.2M35.80 82.70h2.2"/>
<path d="M45.57 78.89V82.70M44.47 78.89h2.2M44.47 82.70h2.2"/>
<path d="M54.24 77.26V82.70M53.14 77.26h2.2M53.14 82.70h2.2"/>
<path d="M62.91 69.64V76.17M61.81 69.64h2.2M61.81 76.17h2.2"/>
<path d="M71.58 64.74V70.18M70.48 64.74h2.2M70.48 70.18h2.2"/>
<path d="M80.25 36.45V41.89M79.15 36.45h2.2M79.15 41.89h2.2"/>
<path d="M88.92 28.28V30.46M87.82 28.28h2.2M87.82 30.46h2.2"/>
<path d="M97.59 27.19V29.37M96.49 27.19h2.2M96.49 29.37h2.2"/>
</g>
<path d="M28.23 83.21L29.28 81.32L27.18 81.32Z" fill="#686868"/>
<path d="M36.90 82.66L37.95 80.77L35.85 80.77Z" fill="#686868"/>
<path d="M45.57 82.12L46.62 80.23L44.52 80.23Z" fill="#686868"/>
<path d="M54.24 81.03L55.29 79.14L53.19 79.14Z" fill="#686868"/>
<path d="M62.91 73.95L63.96 72.06L61.86 72.06Z" fill="#686868"/>
<path d="M71.58 68.51L72.63 66.62L70.53 66.62Z" fill="#686868"/>
<path d="M80.25 40.22L81.30 38.33L79.20 38.33Z" fill="#686868"/>
<path d="M88.92 30.42L89.97 28.53L87.87 28.53Z" fill="#686868"/>
<path d="M97.59 29.33L98.64 27.44L96.54 27.44Z" fill="#686868"/>
<polyline points="28.23,81.61 36.90,81.07 45.57,79.98 54.24,78.35 62.91,70.73 71.58,54.40 80.25,40.25 88.92,29.92 97.59,28.28" fill="none" stroke="#555" stroke-width="0.55"/>
<g stroke="#555" stroke-width="0.45">
<path d="M28.23 79.98V82.70M27.13 79.98h2.2M27.13 82.70h2.2"/>
<path d="M36.90 79.44V82.70M35.80 79.44h2.2M35.80 82.70h2.2"/>
<path d="M45.57 77.26V82.70M44.47 77.26h2.2M44.47 82.70h2.2"/>
<path d="M54.24 75.63V81.07M53.14 75.63h2.2M53.14 81.07h2.2"/>
<path d="M62.91 67.46V73.99M61.81 67.46h2.2M61.81 73.99h2.2"/>
<path d="M71.58 51.68V57.12M70.48 51.68h2.2M70.48 57.12h2.2"/>
<path d="M80.25 37.53V42.98M79.15 37.53h2.2M79.15 42.98h2.2"/>
<path d="M88.92 28.83V31.00M87.82 28.83h2.2M87.82 31.00h2.2"/>
<path d="M97.59 27.19V29.37M96.49 27.19h2.2M96.49 29.37h2.2"/>
</g>
<path d="M28.23 80.56L29.28 82.45L27.18 82.45Z" fill="#555"/>
<path d="M36.90 80.02L37.95 81.91L35.85 81.91Z" fill="#555"/>
<path d="M45.57 78.93L46.62 80.82L44.52 80.82Z" fill="#555"/>
<path d="M54.24 77.30L55.29 79.19L53.19 79.19Z" fill="#555"/>
<path d="M62.91 69.68L63.96 71.57L61.86 71.57Z" fill="#555"/>
<path d="M71.58 53.35L72.63 55.24L70.53 55.24Z" fill="#555"/>
<path d="M80.25 39.20L81.30 41.09L79.20 41.09Z" fill="#555"/>
<path d="M88.92 28.87L89.97 30.76L87.87 30.76Z" fill="#555"/>
<path d="M97.59 27.23L98.64 29.12L96.54 29.12Z" fill="#555"/>
<polyline points="28.23,81.07 36.90,79.98 45.57,75.63 54.24,72.36 62.91,69.64 71.58,65.83 80.25,37.53 88.92,29.92 97.59,28.28" fill="none" stroke="#1a1a1a" stroke-width="0.55"/>
<g stroke="#1a1a1a" stroke-width="0.45">
<path d="M28.23 78.89V82.70M27.13 78.89h2.2M27.13 82.70h2.2"/>
<path d="M36.90 77.26V82.70M35.80 77.26h2.2M35.80 82.70h2.2"/>
<path d="M45.57 72.36V78.89M44.47 72.36h2.2M44.47 78.89h2.2"/>
<path d="M54.24 68.01V76.71M53.14 68.01h2.2M53.14 76.71h2.2"/>
<path d="M62.91 66.38V72.91M61.81 66.38h2.2M61.81 72.91h2.2"/>
<path d="M71.58 63.11V68.55M70.48 63.11h2.2M70.48 68.55h2.2"/>
<path d="M80.25 34.81V40.25M79.15 34.81h2.2M79.15 40.25h2.2"/>
<path d="M88.92 28.83V31.00M87.82 28.83h2.2M87.82 31.00h2.2"/>
<path d="M97.59 27.19V29.37M96.49 27.19h2.2M96.49 29.37h2.2"/>
</g>
<circle cx="28.23" cy="81.07" r="1.00" fill="#1a1a1a"/>
<circle cx="36.90" cy="79.98" r="1.00" fill="#1a1a1a"/>
<circle cx="45.57" cy="75.63" r="1.00" fill="#1a1a1a"/>
<circle cx="54.24" cy="72.36" r="1.00" fill="#1a1a1a"/>
<circle cx="62.91" cy="69.64" r="1.00" fill="#1a1a1a"/>
<circle cx="71.58" cy="65.83" r="1.00" fill="#1a1a1a"/>
<circle cx="80.25" cy="37.53" r="1.00" fill="#1a1a1a"/>
<circle cx="88.92" cy="29.92" r="1.00" fill="#1a1a1a"/>
<circle cx="97.59" cy="28.28" r="1.00" fill="#1a1a1a"/>
<polyline points="28.23,77.80 36.90,75.08 45.57,69.10 54.24,53.86 62.91,36.99 71.58,29.37 80.25,29.37 88.92,28.83 97.59,28.28" fill="none" stroke="#000" stroke-width="0.7"/>
<g stroke="#000" stroke-width="0.45">
<path d="M28.23 75.08V80.52M27.13 75.08h2.2M27.13 80.52h2.2"/>
<path d="M36.90 72.36V77.80M35.80 72.36h2.2M35.80 77.80h2.2"/>
<path d="M45.57 66.92V71.27M44.47 66.92h2.2M44.47 71.27h2.2"/>
<path d="M54.24 52.23V55.49M53.14 52.23h2.2M53.14 55.49h2.2"/>
<path d="M62.91 34.27V39.71M61.81 34.27h2.2M61.81 39.71h2.2"/>
<path d="M71.58 28.28V30.46M70.48 28.28h2.2M70.48 30.46h2.2"/>
<path d="M80.25 28.83V29.92M79.15 28.83h2.2M79.15 29.92h2.2"/>
<path d="M88.92 28.28V29.37M87.82 28.28h2.2M87.82 29.37h2.2"/>
<path d="M97.59 27.74V28.83M96.49 27.74h2.2M96.49 28.83h2.2"/>
</g>
<rect x="26.78" y="76.35" width="2.90" height="2.90" rx="0.5" fill="#000"/>
<rect x="35.45" y="73.63" width="2.90" height="2.90" rx="0.5" fill="#000"/>
<rect x="44.12" y="67.65" width="2.90" height="2.90" rx="0.5" fill="#000"/>
<rect x="52.79" y="52.41" width="2.90" height="2.90" rx="0.5" fill="#000"/>
<rect x="61.46" y="35.54" width="2.90" height="2.90" rx="0.5" fill="#000"/>
<rect x="70.13" y="27.92" width="2.90" height="2.90" rx="0.5" fill="#000"/>
<rect x="78.80" y="27.92" width="2.90" height="2.90" rx="0.5" fill="#000"/>
<rect x="87.47" y="27.38" width="2.90" height="2.90" rx="0.5" fill="#000"/>
<rect x="96.14" y="26.83" width="2.90" height="2.90" rx="0.5" fill="#000"/>
<g stroke="#111" stroke-width="0.9" fill="none">
<path d="M153.20 17.50V83.30H251.70"/>
<path d="M150.80 83.30H153.20"/>
<path d="M150.80 72.40H153.20"/>
<path d="M150.80 61.50H153.20"/>
<path d="M150.80 50.60H153.20"/>
<path d="M150.80 39.70H153.20"/>
<path d="M150.80 28.80H153.20"/>
<path d="M150.80 17.90H153.20"/>
<path d="M164.90 83.30v2.4"/>
<path d="M193.70 83.30v2.4"/>
<path d="M222.50 83.30v2.4"/>
<path d="M251.30 83.30v2.4"/>
</g>
<g stroke="#111" stroke-width="0.55" fill="none">
<path d="M151.80 77.85H153.20"/>
<path d="M151.80 66.95H153.20"/>
<path d="M151.80 56.05H153.20"/>
<path d="M151.80 45.15H153.20"/>
<path d="M151.80 34.25H153.20"/>
<path d="M151.80 23.35H153.20"/>
<path d="M153.44 83.30v1.5"/>
<path d="M156.23 83.30v1.5"/>
<path d="M158.51 83.30v1.5"/>
<path d="M160.44 83.30v1.5"/>
<path d="M162.11 83.30v1.5"/>
<path d="M163.58 83.30v1.5"/>
<path d="M173.57 83.30v1.5"/>
<path d="M178.64 83.30v1.5"/>
<path d="M182.24 83.30v1.5"/>
<path d="M185.03 83.30v1.5"/>
<path d="M187.31 83.30v1.5"/>
<path d="M189.24 83.30v1.5"/>
<path d="M190.91 83.30v1.5"/>
<path d="M192.38 83.30v1.5"/>
<path d="M202.37 83.30v1.5"/>
<path d="M207.44 83.30v1.5"/>
<path d="M211.04 83.30v1.5"/>
<path d="M213.83 83.30v1.5"/>
<path d="M216.11 83.30v1.5"/>
<path d="M218.04 83.30v1.5"/>
<path d="M219.71 83.30v1.5"/>
<path d="M221.18 83.30v1.5"/>
<path d="M231.17 83.30v1.5"/>
<path d="M236.24 83.30v1.5"/>
<path d="M239.84 83.30v1.5"/>
<path d="M242.63 83.30v1.5"/>
<path d="M244.91 83.30v1.5"/>
<path d="M246.84 83.30v1.5"/>
<path d="M248.51 83.30v1.5"/>
<path d="M249.98 83.30v1.5"/>
</g>
<text x="149.90" y="85.00" font-size="4.8" text-anchor="end" font-weight="bold" font-family='"Liberation Sans", Arial, sans-serif' fill="#000">0</text>
<text x="149.90" y="74.10" font-size="4.8" text-anchor="end" font-weight="bold" font-family='"Liberation Sans", Arial, sans-serif' fill="#000">20</text>
<text x="149.90" y="63.20" font-size="4.8" text-anchor="end" font-weight="bold" font-family='"Liberation Sans", Arial, sans-serif' fill="#000">40</text>
<text x="149.90" y="52.30" font-size="4.8" text-anchor="end" font-weight="bold" font-family='"Liberation Sans", Arial, sans-serif' fill="#000">60</text>
<text x="149.90" y="41.40" font-size="4.8" text-anchor="end" font-weight="bold" font-family='"Liberation Sans", Arial, sans-serif' fill="#000">80</text>
<text x="149.90" y="30.50" font-size="4.8" text-anchor="end" font-weight="bold" font-family='"Liberation Sans", Arial, sans-serif' fill="#000">100</text>
<text x="149.90" y="19.60" font-size="4.8" text-anchor="end" font-weight="bold" font-family='"Liberation Sans", Arial, sans-serif' fill="#000">120</text>
<text x="164.90" y="91.50" font-size="4.9" text-anchor="middle" font-weight="bold" font-family='"Liberation Sans", Arial, sans-serif' fill="#000">1</text>
<text x="193.70" y="91.50" font-size="4.9" text-anchor="middle" font-weight="bold" font-family='"Liberation Sans", Arial, sans-serif' fill="#000">10</text>
<text x="222.50" y="91.50" font-size="4.9" text-anchor="middle" font-weight="bold" font-family='"Liberation Sans", Arial, sans-serif' fill="#000">100</text>
<text x="251.30" y="91.50" font-size="4.9" text-anchor="middle" font-weight="bold" font-family='"Liberation Sans", Arial, sans-serif' fill="#000">1000</text>
<text x="203.30" y="99.70" font-size="5.4" text-anchor="middle" font-weight="bold" font-family='"Liberation Sans", Arial, sans-serif' fill="#000">Concentration(μM)</text>
<text x="138.40" y="50.60" font-size="5.45" text-anchor="middle" font-weight="bold" font-family='"Liberation Sans", Arial, sans-serif' fill="#000" transform="rotate(-90 138.40 50.60)">Inhibition Rate (%)</text>
<text x="202.00" y="10.00" font-size="6.3" text-anchor="middle" font-weight="bold" font-family='"Liberation Sans", Arial, sans-serif' fill="#000">MCF7</text>
<polyline points="156.23,83.30 164.90,83.30 173.57,83.30 182.24,82.21 190.91,81.66 199.58,78.94 208.25,72.40 216.92,69.13 225.59,63.13" fill="none" stroke="#999" stroke-width="0.55"/>
<g stroke="#999" stroke-width="0.45">
<path d="M156.23 82.21V83.30M155.13 82.21h2.2M155.13 83.30h2.2"/>
<path d="M164.90 81.66V83.30M163.80 81.66h2.2M163.80 83.30h2.2"/>
<path d="M173.57 81.66V83.30M172.47 81.66h2.2M172.47 83.30h2.2"/>
<path d="M182.24 80.03V83.30M181.14 80.03h2.2M181.14 83.30h2.2"/>
<path d="M190.91 79.48V83.30M189.81 79.48h2.2M189.81 83.30h2.2"/>
<path d="M199.58 77.30V80.58M198.48 77.30h2.2M198.48 80.58h2.2"/>
<path d="M208.25 70.77V74.03M207.15 70.77h2.2M207.15 74.03h2.2"/>
<path d="M216.92 67.49V70.77M215.82 67.49h2.2M215.82 70.77h2.2"/>
<path d="M225.59 60.95V65.31M224.49 60.95h2.2M224.49 65.31h2.2"/>
</g>
<polyline points="156.23,83.30 164.90,83.30 173.57,82.75 182.24,81.12 190.91,78.94 199.58,76.22 208.25,69.67 216.92,37.52 225.59,27.71" fill="none" stroke="#686868" stroke-width="0.55"/>
<g stroke="#686868" stroke-width="0.45">
<path d="M156.23 81.66V83.30M155.13 81.66h2.2M155.13 83.30h2.2"/>
<path d="M164.90 81.66V83.30M163.80 81.66h2.2M163.80 83.30h2.2"/>
<path d="M173.57 80.58V83.30M172.47 80.58h2.2M172.47 83.30h2.2"/>
<path d="M182.24 78.39V83.30M181.14 78.39h2.2M181.14 83.30h2.2"/>
<path d="M190.91 75.67V82.21M189.81 75.67h2.2M189.81 82.21h2.2"/>
<path d="M199.58 73.49V78.94M198.48 73.49h2.2M198.48 78.94h2.2"/>
<path d="M208.25 66.95V72.40M207.15 66.95h2.2M207.15 72.40h2.2"/>
<path d="M216.92 35.88V39.15M215.82 35.88h2.2M215.82 39.15h2.2"/>
<path d="M225.59 26.62V28.80M224.49 26.62h2.2M224.49 28.80h2.2"/>
</g>
<path d="M156.23 84.35L157.28 82.46L155.18 82.46Z" fill="#686868"/>
<path d="M164.90 84.35L165.95 82.46L163.85 82.46Z" fill="#686868"/>
<path d="M173.57 83.80L174.62 81.91L172.52 81.91Z" fill="#686868"/>
<path d="M182.24 82.17L183.29 80.28L181.19 80.28Z" fill="#686868"/>
<path d="M190.91 79.99L191.96 78.10L189.86 78.10Z" fill="#686868"/>
<path d="M199.58 77.27L200.63 75.38L198.53 75.38Z" fill="#686868"/>
<path d="M208.25 70.72L209.30 68.83L207.20 68.83Z" fill="#686868"/>
<path d="M216.92 38.57L217.97 36.68L215.87 36.68Z" fill="#686868"/>
<path d="M225.59 28.76L226.64 26.87L224.54 26.87Z" fill="#686868"/>
<polyline points="156.23,83.30 164.90,82.75 173.57,82.21 182.24,78.94 190.91,76.22 199.58,73.49 208.25,68.04 216.92,34.25 225.59,27.71" fill="none" stroke="#555" stroke-width="0.55"/>
<g stroke="#555" stroke-width="0.45">
<path d="M156.23 81.66V83.30M155.13 81.66h2.2M155.13 83.30h2.2"/>
<path d="M164.90 81.12V83.30M163.80 81.12h2.2M163.80 83.30h2.2"/>
<path d="M173.57 79.48V83.30M172.47 79.48h2.2M172.47 83.30h2.2"/>
<path d="M182.24 76.22V81.66M181.14 76.22h2.2M181.14 81.66h2.2"/>
<path d="M190.91 72.94V79.48M189.81 72.94h2.2M189.81 79.48h2.2"/>
<path d="M199.58 70.77V76.22M198.48 70.77h2.2M198.48 76.22h2.2"/>
<path d="M208.25 65.31V70.77M207.15 65.31h2.2M207.15 70.77h2.2"/>
<path d="M216.92 32.61V35.88M215.82 32.61h2.2M215.82 35.88h2.2"/>
<path d="M225.59 26.62V28.80M224.49 26.62h2.2M224.49 28.80h2.2"/>
</g>
<path d="M156.23 82.25L157.28 84.14L155.18 84.14Z" fill="#555"/>
<path d="M164.90 81.70L165.95 83.59L163.85 83.59Z" fill="#555"/>
<path d="M173.57 81.16L174.62 83.05L172.52 83.05Z" fill="#555"/>
<path d="M182.24 77.89L183.29 79.78L181.19 79.78Z" fill="#555"/>
<path d="M190.91 75.17L191.96 77.06L189.86 77.06Z" fill="#555"/>
<path d="M199.58 72.44L200.63 74.33L198.53 74.33Z" fill="#555"/>
<path d="M208.25 66.99L209.30 68.88L207.20 68.88Z" fill="#555"/>
<path d="M216.92 33.20L217.97 35.09L215.87 35.09Z" fill="#555"/>
<path d="M225.59 26.66L226.64 28.55L224.54 28.55Z" fill="#555"/>
<polyline points="156.23,82.75 164.90,82.21 173.57,81.12 182.24,76.76 190.91,73.49 199.58,69.13 208.25,61.50 216.92,31.52 225.59,27.16" fill="none" stroke="#1a1a1a" stroke-width="0.55"/>
<g stroke="#1a1a1a" stroke-width="0.45">
<path d="M156.23 80.58V83.30M155.13 80.58h2.2M155.13 83.30h2.2"/>
<path d="M164.90 79.48V83.30M163.80 79.48h2.2M163.80 83.30h2.2"/>
<path d="M173.57 77.85V83.30M172.47 77.85h2.2M172.47 83.30h2.2"/>
<path d="M182.24 72.40V81.12M181.14 72.40h2.2M181.14 81.12h2.2"/>
<path d="M190.91 70.22V76.76M189.81 70.22h2.2M189.81 76.76h2.2"/>
<path d="M199.58 66.41V71.85M198.48 66.41h2.2M198.48 71.85h2.2"/>
<path d="M208.25 58.77V64.22M207.15 58.77h2.2M207.15 64.22h2.2"/>
<path d="M216.92 29.89V33.16M215.82 29.89h2.2M215.82 33.16h2.2"/>
<path d="M225.59 26.07V28.25M224.49 26.07h2.2M224.49 28.25h2.2"/>
</g>
<circle cx="156.23" cy="82.75" r="1.00" fill="#1a1a1a"/>
<circle cx="164.90" cy="82.21" r="1.00" fill="#1a1a1a"/>
<circle cx="173.57" cy="81.12" r="1.00" fill="#1a1a1a"/>
<circle cx="182.24" cy="76.76" r="1.00" fill="#1a1a1a"/>
<circle cx="190.91" cy="73.49" r="1.00" fill="#1a1a1a"/>
<circle cx="199.58" cy="69.13" r="1.00" fill="#1a1a1a"/>
<circle cx="208.25" cy="61.50" r="1.00" fill="#1a1a1a"/>
<circle cx="216.92" cy="31.52" r="1.00" fill="#1a1a1a"/>
<circle cx="225.59" cy="27.16" r="1.00" fill="#1a1a1a"/>
<polyline points="156.23,78.39 164.90,77.30 173.57,75.67 182.24,72.40 190.91,69.13 199.58,65.31 208.25,30.43 216.92,28.80 225.59,28.80" fill="none" stroke="#000" stroke-width="0.7"/>
<g stroke="#000" stroke-width="0.45">
<path d="M156.23 75.67V81.12M155.13 75.67h2.2M155.13 81.12h2.2"/>
<path d="M164.90 74.58V80.03M163.80 74.58h2.2M163.80 80.03h2.2"/>
<path d="M173.57 73.49V77.85M172.47 73.49h2.2M172.47 77.85h2.2"/>
<path d="M182.24 70.77V74.03M181.14 70.77h2.2M181.14 74.03h2.2"/>
<path d="M190.91 66.41V71.85M189.81 66.41h2.2M189.81 71.85h2.2"/>
<path d="M199.58 64.22V66.41M198.48 64.22h2.2M198.48 66.41h2.2"/>
<path d="M208.25 29.89V30.98M207.15 29.89h2.2M207.15 30.98h2.2"/>
<path d="M216.92 28.25V29.34M215.82 28.25h2.2M215.82 29.34h2.2"/>
<path d="M225.59 28.25V29.34M224.49 28.25h2.2M224.49 29.34h2.2"/>
</g>
<rect x="154.78" y="76.94" width="2.90" height="2.90" rx="0.5" fill="#000"/>
<rect x="163.45" y="75.85" width="2.90" height="2.90" rx="0.5" fill="#000"/>
<rect x="172.12" y="74.22" width="2.90" height="2.90" rx="0.5" fill="#000"/>
<rect x="180.79" y="70.95" width="2.90" height="2.90" rx="0.5" fill="#000"/>
<rect x="189.46" y="67.68" width="2.90" height="2.90" rx="0.5" fill="#000"/>
<rect x="198.13" y="63.86" width="2.90" height="2.90" rx="0.5" fill="#000"/>
<rect x="206.80" y="28.98" width="2.90" height="2.90" rx="0.5" fill="#000"/>
<rect x="215.47" y="27.35" width="2.90" height="2.90" rx="0.5" fill="#000"/>
<rect x="224.14" y="27.35" width="2.90" height="2.90" rx="0.5" fill="#000"/>
<g stroke="#111" stroke-width="0.9" fill="none">
<path d="M282.00 17.60V83.30H380.10"/>
<path d="M279.60 83.30H282.00"/>
<path d="M279.60 72.42H282.00"/>
<path d="M279.60 61.53H282.00"/>
<path d="M279.60 50.65H282.00"/>
<path d="M279.60 39.77H282.00"/>
<path d="M279.60 28.88H282.00"/>
<path d="M279.60 18.00H282.00"/>
<path d="M293.30 83.30v2.4"/>
<path d="M322.10 83.30v2.4"/>
<path d="M350.90 83.30v2.4"/>
<path d="M379.70 83.30v2.4"/>
</g>
<g stroke="#111" stroke-width="0.55" fill="none">
<path d="M280.60 77.86H282.00"/>
<path d="M280.60 66.97H282.00"/>
<path d="M280.60 56.09H282.00"/>
<path d="M280.60 45.21H282.00"/>
<path d="M280.60 34.32H282.00"/>
<path d="M280.60 23.44H282.00"/>
<path d="M281.84 83.30v1.5"/>
<path d="M284.63 83.30v1.5"/>
<path d="M286.91 83.30v1.5"/>
<path d="M288.84 83.30v1.5"/>
<path d="M290.51 83.30v1.5"/>
<path d="M291.98 83.30v1.5"/>
<path d="M301.97 83.30v1.5"/>
<path d="M307.04 83.30v1.5"/>
<path d="M310.64 83.30v1.5"/>
<path d="M313.43 83.30v1.5"/>
<path d="M315.71 83.30v1.5"/>
<path d="M317.64 83.30v1.5"/>
<path d="M319.31 83.30v1.5"/>
<path d="M320.78 83.30v1.5"/>
<path d="M330.77 83.30v1.5"/>
<path d="M335.84 83.30v1.5"/>
<path d="M339.44 83.30v1.5"/>
<path d="M342.23 83.30v1.5"/>
<path d="M344.51 83.30v1.5"/>
<path d="M346.44 83.30v1.5"/>
<path d="M348.11 83.30v1.5"/>
<path d="M349.58 83.30v1.5"/>
<path d="M359.57 83.30v1.5"/>
<path d="M364.64 83.30v1.5"/>
<path d="M368.24 83.30v1.5"/>
<path d="M371.03 83.30v1.5"/>
<path d="M373.31 83.30v1.5"/>
<path d="M375.24 83.30v1.5"/>
<path d="M376.91 83.30v1.5"/>
<path d="M378.38 83.30v1.5"/>
</g>
<text x="278.70" y="85.00" font-size="4.8" text-anchor="end" font-weight="bold" font-family='"Liberation Sans", Arial, sans-serif' fill="#000">0</text>
<text x="278.70" y="74.12" font-size="4.8" text-anchor="end" font-weight="bold" font-family='"Liberation Sans", Arial, sans-serif' fill="#000">20</text>
<text x="278.70" y="63.23" font-size="4.8" text-anchor="end" font-weight="bold" font-family='"Liberation Sans", Arial, sans-serif' fill="#000">40</text>
<text x="278.70" y="52.35" font-size="4.8" text-anchor="end" font-weight="bold" font-family='"Liberation Sans", Arial, sans-serif' fill="#000">60</text>
<text x="278.70" y="41.47" font-size="4.8" text-anchor="end" font-weight="bold" font-family='"Liberation Sans", Arial, sans-serif' fill="#000">80</text>
<text x="278.70" y="30.58" font-size="4.8" text-anchor="end" font-weight="bold" font-family='"Liberation Sans", Arial, sans-serif' fill="#000">100</text>
<text x="278.70" y="19.70" font-size="4.8" text-anchor="end" font-weight="bold" font-family='"Liberation Sans", Arial, sans-serif' fill="#000">120</text>
<text x="293.30" y="91.50" font-size="4.9" text-anchor="middle" font-weight="bold" font-family='"Liberation Sans", Arial, sans-serif' fill="#000">1</text>
<text x="322.10" y="91.50" font-size="4.9" text-anchor="middle" font-weight="bold" font-family='"Liberation Sans", Arial, sans-serif' fill="#000">10</text>
<text x="350.90" y="91.50" font-size="4.9" text-anchor="middle" font-weight="bold" font-family='"Liberation Sans", Arial, sans-serif' fill="#000">100</text>
<text x="379.70" y="91.50" font-size="4.9" text-anchor="middle" font-weight="bold" font-family='"Liberation Sans", Arial, sans-serif' fill="#000">1000</text>
<text x="332.50" y="99.70" font-size="5.4" text-anchor="middle" font-weight="bold" font-family='"Liberation Sans", Arial, sans-serif' fill="#000">Concentration(μM)</text>
<text x="267.20" y="50.65" font-size="5.45" text-anchor="middle" font-weight="bold" font-family='"Liberation Sans", Arial, sans-serif' fill="#000" transform="rotate(-90 267.20 50.65)">Inhibition Rate (%)</text>
<text x="331.20" y="10.40" font-size="6.3" text-anchor="middle" font-weight="bold" font-family='"Liberation Sans", Arial, sans-serif' fill="#000">HeLa</text>
<polyline points="284.63,79.49 293.30,78.95 301.97,77.86 310.64,76.23 319.31,74.05 327.98,71.87 336.65,70.24 345.32,68.06 353.99,63.17" fill="none" stroke="#999" stroke-width="0.55"/>
<g stroke="#999" stroke-width="0.45">
<path d="M284.63 78.40V80.58M283.53 78.40h2.2M283.53 80.58h2.2"/>
<path d="M293.30 77.31V80.58M292.20 77.31h2.2M292.20 80.58h2.2"/>
<path d="M301.97 76.23V79.49M300.87 76.23h2.2M300.87 79.49h2.2"/>
<path d="M310.64 74.05V78.40M309.54 74.05h2.2M309.54 78.40h2.2"/>
<path d="M319.31 71.87V76.23M318.21 71.87h2.2M318.21 76.23h2.2"/>
<path d="M327.98 70.24V73.50M326.88 70.24h2.2M326.88 73.50h2.2"/>
<path d="M336.65 68.61V71.87M335.55 68.61h2.2M335.55 71.87h2.2"/>
<path d="M345.32 66.43V69.70M344.22 66.43h2.2M344.22 69.70h2.2"/>
<path d="M353.99 60.99V65.34M352.89 60.99h2.2M352.89 65.34h2.2"/>
</g>
<polyline points="284.63,82.76 293.30,82.76 301.97,82.21 310.64,80.58 319.31,77.86 327.98,72.42 336.65,68.06 345.32,44.12 353.99,28.88" fill="none" stroke="#686868" stroke-width="0.55"/>
<g stroke="#686868" stroke-width="0.45">
<path d="M284.63 81.12V83.30M283.53 81.12h2.2M283.53 83.30h2.2"/>
<path d="M293.30 81.12V83.30M292.20 81.12h2.2M292.20 83.30h2.2"/>
<path d="M301.97 80.03V83.30M300.87 80.03h2.2M300.87 83.30h2.2"/>
<path d="M310.64 77.86V83.30M309.54 77.86h2.2M309.54 83.30h2.2"/>
<path d="M319.31 74.59V81.12M318.21 74.59h2.2M318.21 81.12h2.2"/>
<path d="M327.98 69.70V75.14M326.88 69.70h2.2M326.88 75.14h2.2"/>
<path d="M336.65 65.34V70.78M335.55 65.34h2.2M335.55 70.78h2.2"/>
<path d="M345.32 42.49V45.75M344.22 42.49h2.2M344.22 45.75h2.2"/>
<path d="M353.99 27.79V29.97M352.89 27.79h2.2M352.89 29.97h2.2"/>
</g>
<path d="M284.63 83.81L285.68 81.92L283.58 81.92Z" fill="#686868"/>
<path d="M293.30 83.81L294.35 81.92L292.25 81.92Z" fill="#686868"/>
<path d="M301.97 83.26L303.02 81.37L300.92 81.37Z" fill="#686868"/>
<path d="M310.64 81.63L311.69 79.74L309.59 79.74Z" fill="#686868"/>
<path d="M319.31 78.91L320.36 77.02L318.26 77.02Z" fill="#686868"/>
<path d="M327.98 73.47L329.03 71.58L326.93 71.58Z" fill="#686868"/>
<path d="M336.65 69.11L337.70 67.22L335.60 67.22Z" fill="#686868"/>
<path d="M345.32 45.17L346.37 43.28L344.27 43.28Z" fill="#686868"/>
<path d="M353.99 29.93L355.04 28.04L352.94 28.04Z" fill="#686868"/>
<polyline points="284.63,82.76 293.30,82.21 301.97,81.12 310.64,79.49 319.31,76.23 327.98,71.33 336.65,58.27 345.32,41.40 353.99,28.34" fill="none" stroke="#555" stroke-width="0.55"/>
<g stroke="#555" stroke-width="0.45">
<path d="M284.63 81.12V83.30M283.53 81.12h2.2M283.53 83.30h2.2"/>
<path d="M293.30 80.58V83.30M292.20 80.58h2.2M292.20 83.30h2.2"/>
<path d="M301.97 78.40V83.30M300.87 78.40h2.2M300.87 83.30h2.2"/>
<path d="M310.64 76.77V82.21M309.54 76.77h2.2M309.54 82.21h2.2"/>
<path d="M319.31 72.96V79.49M318.21 72.96h2.2M318.21 79.49h2.2"/>
<path d="M327.98 68.61V74.05M326.88 68.61h2.2M326.88 74.05h2.2"/>
<path d="M336.65 55.55V60.99M335.55 55.55h2.2M335.55 60.99h2.2"/>
<path d="M345.32 39.77V43.03M344.22 39.77h2.2M344.22 43.03h2.2"/>
<path d="M353.99 27.25V29.43M352.89 27.25h2.2M352.89 29.43h2.2"/>
</g>
<path d="M284.63 81.71L285.68 83.60L283.58 83.60Z" fill="#555"/>
<path d="M293.30 81.16L294.35 83.05L292.25 83.05Z" fill="#555"/>
<path d="M301.97 80.07L303.02 81.96L300.92 81.96Z" fill="#555"/>
<path d="M310.64 78.44L311.69 80.33L309.59 80.33Z" fill="#555"/>
<path d="M319.31 75.18L320.36 77.07L318.26 77.07Z" fill="#555"/>
<path d="M327.98 70.28L329.03 72.17L326.93 72.17Z" fill="#555"/>
<path d="M336.65 57.22L337.70 59.11L335.60 59.11Z" fill="#555"/>
<path d="M345.32 40.35L346.37 42.24L344.27 42.24Z" fill="#555"/>
<path d="M353.99 27.29L355.04 29.18L352.94 29.18Z" fill="#555"/>
<polyline points="284.63,82.21 293.30,81.67 301.97,78.95 310.64,76.77 319.31,72.42 327.98,68.06 336.65,42.49 345.32,28.88 353.99,28.88" fill="none" stroke="#1a1a1a" stroke-width="0.55"/>
<g stroke="#1a1a1a" stroke-width="0.45">
<path d="M284.63 80.03V83.30M283.53 80.03h2.2M283.53 83.30h2.2"/>
<path d="M293.30 78.95V83.30M292.20 78.95h2.2M292.20 83.30h2.2"/>
<path d="M301.97 75.68V82.21M300.87 75.68h2.2M300.87 82.21h2.2"/>
<path d="M310.64 72.42V81.12M309.54 72.42h2.2M309.54 81.12h2.2"/>
<path d="M319.31 69.15V75.68M318.21 69.15h2.2M318.21 75.68h2.2"/>
<path d="M327.98 65.34V70.78M326.88 65.34h2.2M326.88 70.78h2.2"/>
<path d="M336.65 39.77V45.21M335.55 39.77h2.2M335.55 45.21h2.2"/>
<path d="M345.32 27.79V29.97M344.22 27.79h2.2M344.22 29.97h2.2"/>
<path d="M353.99 27.79V29.97M352.89 27.79h2.2M352.89 29.97h2.2"/>
</g>
<circle cx="284.63" cy="82.21" r="1.00" fill="#1a1a1a"/>
<circle cx="293.30" cy="81.67" r="1.00" fill="#1a1a1a"/>
<circle cx="301.97" cy="78.95" r="1.00" fill="#1a1a1a"/>
<circle cx="310.64" cy="76.77" r="1.00" fill="#1a1a1a"/>
<circle cx="319.31" cy="72.42" r="1.00" fill="#1a1a1a"/>
<circle cx="327.98" cy="68.06" r="1.00" fill="#1a1a1a"/>
<circle cx="336.65" cy="42.49" r="1.00" fill="#1a1a1a"/>
<circle cx="345.32" cy="28.88" r="1.00" fill="#1a1a1a"/>
<circle cx="353.99" cy="28.88" r="1.00" fill="#1a1a1a"/>
<polyline points="284.63,81.67 293.30,81.12 301.97,78.95 310.64,76.23 319.31,70.24 327.98,58.81 336.65,29.97 345.32,28.88 353.99,28.88" fill="none" stroke="#000" stroke-width="0.7"/>
<g stroke="#000" stroke-width="0.45">
<path d="M284.63 78.95V83.30M283.53 78.95h2.2M283.53 83.30h2.2"/>
<path d="M293.30 78.40V83.30M292.20 78.40h2.2M292.20 83.30h2.2"/>
<path d="M301.97 76.77V81.12M300.87 76.77h2.2M300.87 81.12h2.2"/>
<path d="M310.64 74.59V77.86M309.54 74.59h2.2M309.54 77.86h2.2"/>
<path d="M319.31 67.52V72.96M318.21 67.52h2.2M318.21 72.96h2.2"/>
<path d="M327.98 57.72V59.90M326.88 57.72h2.2M326.88 59.90h2.2"/>
<path d="M336.65 29.43V30.52M335.55 29.43h2.2M335.55 30.52h2.2"/>
<path d="M345.32 28.34V29.43M344.22 28.34h2.2M344.22 29.43h2.2"/>
<path d="M353.99 28.34V29.43M352.89 28.34h2.2M352.89 29.43h2.2"/>
</g>
<rect x="283.18" y="80.22" width="2.90" height="2.90" rx="0.5" fill="#000"/>
<rect x="291.85" y="79.67" width="2.90" height="2.90" rx="0.5" fill="#000"/>
<rect x="300.52" y="77.50" width="2.90" height="2.90" rx="0.5" fill="#000"/>
<rect x="309.19" y="74.78" width="2.90" height="2.90" rx="0.5" fill="#000"/>
<rect x="317.86" y="68.79" width="2.90" height="2.90" rx="0.5" fill="#000"/>
<rect x="326.53" y="57.36" width="2.90" height="2.90" rx="0.5" fill="#000"/>
<rect x="335.20" y="28.52" width="2.90" height="2.90" rx="0.5" fill="#000"/>
<rect x="343.87" y="27.43" width="2.90" height="2.90" rx="0.5" fill="#000"/>
<rect x="352.54" y="27.43" width="2.90" height="2.90" rx="0.5" fill="#000"/>
<g stroke="#111" stroke-width="0.9" fill="none">
<path d="M411.10 17.40V82.90H509.10"/>
<path d="M408.70 82.90H411.10"/>
<path d="M408.70 72.05H411.10"/>
<path d="M408.70 61.20H411.10"/>
<path d="M408.70 50.35H411.10"/>
<path d="M408.70 39.50H411.10"/>
<path d="M408.70 28.65H411.10"/>
<path d="M408.70 17.80H411.10"/>
<path d="M423.20 82.90v2.4"/>
<path d="M451.70 82.90v2.4"/>
<path d="M480.20 82.90v2.4"/>
<path d="M508.70 82.90v2.4"/>
</g>
<g stroke="#111" stroke-width="0.55" fill="none">
<path d="M409.70 77.48H411.10"/>
<path d="M409.70 66.62H411.10"/>
<path d="M409.70 55.78H411.10"/>
<path d="M409.70 44.92H411.10"/>
<path d="M409.70 34.07H411.10"/>
<path d="M409.70 23.22H411.10"/>
<path d="M411.86 82.90v1.5"/>
<path d="M414.62 82.90v1.5"/>
<path d="M416.88 82.90v1.5"/>
<path d="M418.79 82.90v1.5"/>
<path d="M420.44 82.90v1.5"/>
<path d="M421.90 82.90v1.5"/>
<path d="M431.78 82.90v1.5"/>
<path d="M436.80 82.90v1.5"/>
<path d="M440.36 82.90v1.5"/>
<path d="M443.12 82.90v1.5"/>
<path d="M445.38 82.90v1.5"/>
<path d="M447.29 82.90v1.5"/>
<path d="M448.94 82.90v1.5"/>
<path d="M450.40 82.90v1.5"/>
<path d="M460.28 82.90v1.5"/>
<path d="M465.30 82.90v1.5"/>
<path d="M468.86 82.90v1.5"/>
<path d="M471.62 82.90v1.5"/>
<path d="M473.88 82.90v1.5"/>
<path d="M475.79 82.90v1.5"/>
<path d="M477.44 82.90v1.5"/>
<path d="M478.90 82.90v1.5"/>
<path d="M488.78 82.90v1.5"/>
<path d="M493.80 82.90v1.5"/>
<path d="M497.36 82.90v1.5"/>
<path d="M500.12 82.90v1.5"/>
<path d="M502.38 82.90v1.5"/>
<path d="M504.29 82.90v1.5"/>
<path d="M505.94 82.90v1.5"/>
<path d="M507.40 82.90v1.5"/>
</g>
<text x="407.80" y="84.60" font-size="4.8" text-anchor="end" font-weight="bold" font-family='"Liberation Sans", Arial, sans-serif' fill="#000">0</text>
<text x="407.80" y="73.75" font-size="4.8" text-anchor="end" font-weight="bold" font-family='"Liberation Sans", Arial, sans-serif' fill="#000">20</text>
<text x="407.80" y="62.90" font-size="4.8" text-anchor="end" font-weight="bold" font-family='"Liberation Sans", Arial, sans-serif' fill="#000">40</text>
<text x="407.80" y="52.05" font-size="4.8" text-anchor="end" font-weight="bold" font-family='"Liberation Sans", Arial, sans-serif' fill="#000">60</text>
<text x="407.80" y="41.20" font-size="4.8" text-anchor="end" font-weight="bold" font-family='"Liberation Sans", Arial, sans-serif' fill="#000">80</text>
<text x="407.80" y="30.35" font-size="4.8" text-anchor="end" font-weight="bold" font-family='"Liberation Sans", Arial, sans-serif' fill="#000">100</text>
<text x="407.80" y="19.50" font-size="4.8" text-anchor="end" font-weight="bold" font-family='"Liberation Sans", Arial, sans-serif' fill="#000">120</text>
<text x="423.20" y="91.10" font-size="4.9" text-anchor="middle" font-weight="bold" font-family='"Liberation Sans", Arial, sans-serif' fill="#000">1</text>
<text x="451.70" y="91.10" font-size="4.9" text-anchor="middle" font-weight="bold" font-family='"Liberation Sans", Arial, sans-serif' fill="#000">10</text>
<text x="480.20" y="91.10" font-size="4.9" text-anchor="middle" font-weight="bold" font-family='"Liberation Sans", Arial, sans-serif' fill="#000">100</text>
<text x="508.70" y="91.10" font-size="4.9" text-anchor="middle" font-weight="bold" font-family='"Liberation Sans", Arial, sans-serif' fill="#000">1000</text>
<text x="459.75" y="99.30" font-size="5.4" text-anchor="middle" font-weight="bold" font-family='"Liberation Sans", Arial, sans-serif' fill="#000">Concentration(μM)</text>
<text x="396.30" y="50.35" font-size="5.45" text-anchor="middle" font-weight="bold" font-family='"Liberation Sans", Arial, sans-serif' fill="#000" transform="rotate(-90 396.30 50.35)">Inhibition Rate (%)</text>
<text x="459.80" y="10.00" font-size="6.3" text-anchor="middle" font-weight="bold" font-family='"Liberation Sans", Arial, sans-serif' fill="#000">LoVo</text>
<polyline points="414.62,82.36 423.20,81.82 431.78,81.27 440.36,80.73 448.94,79.65 457.52,76.39 466.10,63.91 474.68,60.12 483.26,53.61" fill="none" stroke="#999" stroke-width="0.55"/>
<g stroke="#999" stroke-width="0.45">
<path d="M414.62 81.27V82.90M413.52 81.27h2.2M413.52 82.90h2.2"/>
<path d="M423.20 80.19V82.90M422.10 80.19h2.2M422.10 82.90h2.2"/>
<path d="M431.78 79.65V82.90M430.68 79.65h2.2M430.68 82.90h2.2"/>
<path d="M440.36 78.56V82.90M439.26 78.56h2.2M439.26 82.90h2.2"/>
<path d="M448.94 77.48V81.82M447.84 77.48h2.2M447.84 81.82h2.2"/>
<path d="M457.52 74.76V78.02M456.42 74.76h2.2M456.42 78.02h2.2"/>
<path d="M466.10 62.29V65.54M465.00 62.29h2.2M465.00 65.54h2.2"/>
<path d="M474.68 58.49V61.74M473.58 58.49h2.2M473.58 61.74h2.2"/>
<path d="M483.26 51.44V55.78M482.16 51.44h2.2M482.16 55.78h2.2"/>
</g>
<polyline points="414.62,82.36 423.20,81.27 431.78,79.65 440.36,76.39 448.94,73.14 457.52,70.97 466.10,60.12 474.68,55.78 483.26,28.65" fill="none" stroke="#686868" stroke-width="0.55"/>
<g stroke="#686868" stroke-width="0.45">
<path d="M414.62 80.73V82.90M413.52 80.73h2.2M413.52 82.90h2.2"/>
<path d="M423.20 79.65V82.90M422.10 79.65h2.2M422.10 82.90h2.2"/>
<path d="M431.78 77.48V81.82M430.68 77.48h2.2M430.68 81.82h2.2"/>
<path d="M440.36 73.68V79.10M439.26 73.68h2.2M439.26 79.10h2.2"/>
<path d="M448.94 69.88V76.39M447.84 69.88h2.2M447.84 76.39h2.2"/>
<path d="M457.52 68.25V73.68M456.42 68.25h2.2M456.42 73.68h2.2"/>
<path d="M466.10 57.40V62.83M465.00 57.40h2.2M465.00 62.83h2.2"/>
<path d="M474.68 54.15V57.40M473.58 54.15h2.2M473.58 57.40h2.2"/>
<path d="M483.26 27.56V29.73M482.16 27.56h2.2M482.16 29.73h2.2"/>
</g>
<path d="M414.62 83.41L415.67 81.52L413.57 81.52Z" fill="#686868"/>
<path d="M423.20 82.32L424.25 80.43L422.15 80.43Z" fill="#686868"/>
<path d="M431.78 80.70L432.83 78.81L430.73 78.81Z" fill="#686868"/>
<path d="M440.36 77.44L441.41 75.55L439.31 75.55Z" fill="#686868"/>
<path d="M448.94 74.19L449.99 72.30L447.89 72.30Z" fill="#686868"/>
<path d="M457.52 72.02L458.57 70.12L456.47 70.12Z" fill="#686868"/>
<path d="M466.10 61.16L467.15 59.27L465.05 59.27Z" fill="#686868"/>
<path d="M474.68 56.83L475.73 54.94L473.63 54.94Z" fill="#686868"/>
<path d="M483.26 29.70L484.31 27.81L482.21 27.81Z" fill="#686868"/>
<polyline points="414.62,82.36 423.20,80.19 431.78,77.48 440.36,73.68 448.94,69.88 457.52,68.25 466.10,65.00 474.68,51.44 483.26,27.56" fill="none" stroke="#555" stroke-width="0.55"/>
<g stroke="#555" stroke-width="0.45">
<path d="M414.62 80.73V82.90M413.52 80.73h2.2M413.52 82.90h2.2"/>
<path d="M423.20 78.56V81.82M422.10 78.56h2.2M422.10 81.82h2.2"/>
<path d="M431.78 74.76V80.19M430.68 74.76h2.2M430.68 80.19h2.2"/>
<path d="M440.36 70.97V76.39M439.26 70.97h2.2M439.26 76.39h2.2"/>
<path d="M448.94 66.62V73.14M447.84 66.62h2.2M447.84 73.14h2.2"/>
<path d="M457.52 65.54V70.97M456.42 65.54h2.2M456.42 70.97h2.2"/>
<path d="M466.10 62.29V67.71M465.00 62.29h2.2M465.00 67.71h2.2"/>
<path d="M474.68 49.81V53.06M473.58 49.81h2.2M473.58 53.06h2.2"/>
<path d="M483.26 26.48V28.65M482.16 26.48h2.2M482.16 28.65h2.2"/>
</g>
<path d="M414.62 81.31L415.67 83.20L413.57 83.20Z" fill="#555"/>
<path d="M423.20 79.14L424.25 81.03L422.15 81.03Z" fill="#555"/>
<path d="M431.78 76.43L432.83 78.32L430.73 78.32Z" fill="#555"/>
<path d="M440.36 72.63L441.41 74.52L439.31 74.52Z" fill="#555"/>
<path d="M448.94 68.83L449.99 70.72L447.89 70.72Z" fill="#555"/>
<path d="M457.52 67.20L458.57 69.09L456.47 69.09Z" fill="#555"/>
<path d="M466.10 63.95L467.15 65.84L465.05 65.84Z" fill="#555"/>
<path d="M474.68 50.39L475.73 52.28L473.63 52.28Z" fill="#555"/>
<path d="M483.26 26.51L484.31 28.40L482.21 28.40Z" fill="#555"/>
<polyline points="414.62,80.73 423.20,78.02 431.78,75.31 440.36,72.05 448.94,67.71 457.52,65.54 466.10,58.49 474.68,31.36 483.26,27.02" fill="none" stroke="#1a1a1a" stroke-width="0.55"/>
<g stroke="#1a1a1a" stroke-width="0.45">
<path d="M414.62 78.56V82.90M413.52 78.56h2.2M413.52 82.90h2.2"/>
<path d="M423.20 75.31V80.73M422.10 75.31h2.2M422.10 80.73h2.2"/>
<path d="M431.78 72.05V78.56M430.68 72.05h2.2M430.68 78.56h2.2"/>
<path d="M440.36 67.71V76.39M439.26 67.71h2.2M439.26 76.39h2.2"/>
<path d="M448.94 64.45V70.97M447.84 64.45h2.2M447.84 70.97h2.2"/>
<path d="M457.52 62.83V68.25M456.42 62.83h2.2M456.42 68.25h2.2"/>
<path d="M466.10 55.78V61.20M465.00 55.78h2.2M465.00 61.20h2.2"/>
<path d="M474.68 29.73V32.99M473.58 29.73h2.2M473.58 32.99h2.2"/>
<path d="M483.26 25.94V28.11M482.16 25.94h2.2M482.16 28.11h2.2"/>
</g>
<circle cx="414.62" cy="80.73" r="1.00" fill="#1a1a1a"/>
<circle cx="423.20" cy="78.02" r="1.00" fill="#1a1a1a"/>
<circle cx="431.78" cy="75.31" r="1.00" fill="#1a1a1a"/>
<circle cx="440.36" cy="72.05" r="1.00" fill="#1a1a1a"/>
<circle cx="448.94" cy="67.71" r="1.00" fill="#1a1a1a"/>
<circle cx="457.52" cy="65.54" r="1.00" fill="#1a1a1a"/>
<circle cx="466.10" cy="58.49" r="1.00" fill="#1a1a1a"/>
<circle cx="474.68" cy="31.36" r="1.00" fill="#1a1a1a"/>
<circle cx="483.26" cy="27.02" r="1.00" fill="#1a1a1a"/>
<polyline points="414.62,77.48 423.20,75.31 431.78,72.59 440.36,68.80 448.94,57.40 457.52,30.82 466.10,28.65 474.68,28.65 483.26,28.65" fill="none" stroke="#000" stroke-width="0.7"/>
<g stroke="#000" stroke-width="0.45">
<path d="M414.62 74.76V80.19M413.52 74.76h2.2M413.52 80.19h2.2"/>
<path d="M423.20 72.59V78.02M422.10 72.59h2.2M422.10 78.02h2.2"/>
<path d="M431.78 70.42V74.76M430.68 70.42h2.2M430.68 74.76h2.2"/>
<path d="M440.36 67.17V70.42M439.26 67.17h2.2M439.26 70.42h2.2"/>
<path d="M448.94 54.69V60.12M447.84 54.69h2.2M447.84 60.12h2.2"/>
<path d="M457.52 29.73V31.90M456.42 29.73h2.2M456.42 31.90h2.2"/>
<path d="M466.10 28.11V29.19M465.00 28.11h2.2M465.00 29.19h2.2"/>
<path d="M474.68 28.11V29.19M473.58 28.11h2.2M473.58 29.19h2.2"/>
<path d="M483.26 28.11V29.19M482.16 28.11h2.2M482.16 29.19h2.2"/>
</g>
<rect x="413.17" y="76.03" width="2.90" height="2.90" rx="0.5" fill="#000"/>
<rect x="421.75" y="73.86" width="2.90" height="2.90" rx="0.5" fill="#000"/>
<rect x="430.33" y="71.14" width="2.90" height="2.90" rx="0.5" fill="#000"/>
<rect x="438.91" y="67.34" width="2.90" height="2.90" rx="0.5" fill="#000"/>
<rect x="447.49" y="55.95" width="2.90" height="2.90" rx="0.5" fill="#000"/>
<rect x="456.07" y="29.37" width="2.90" height="2.90" rx="0.5" fill="#000"/>
<rect x="464.65" y="27.20" width="2.90" height="2.90" rx="0.5" fill="#000"/>
<rect x="473.23" y="27.20" width="2.90" height="2.90" rx="0.5" fill="#000"/>
<rect x="481.81" y="27.20" width="2.90" height="2.90" rx="0.5" fill="#000"/>
<path d="M492.1 22.1H498.8" stroke="#1a1a1a" stroke-width="0.6"/>
<circle cx="495.45" cy="22.10" r="1.00" fill="#1a1a1a"/>
<text x="502.70" y="24.05" font-size="5.3" text-anchor="start" font-weight="normal" font-family='"Liberation Sans", Arial, sans-serif' fill="#111" textLength="44.50" lengthAdjust="spacingAndGlyphs" stroke="#111" stroke-width="0.1">RANATUERIN-2Lb</text>
<path d="M492.1 28.2H498.8" stroke="#000" stroke-width="0.6"/>
<rect x="494.05" y="26.80" width="2.80" height="2.80" rx="0.5" fill="#000"/>
<text x="502.70" y="30.15" font-size="5.3" text-anchor="start" font-weight="normal" font-family='"Liberation Sans", Arial, sans-serif' fill="#111" textLength="34.04" lengthAdjust="spacingAndGlyphs" stroke="#111" stroke-width="0.1">Brevinin-2DYd</text>
<path d="M492.1 35.8H498.8" stroke="#555" stroke-width="0.6"/>
<path d="M495.45 34.75L496.50 36.64L494.40 36.64Z" fill="#555"/>
<text x="502.70" y="37.75" font-size="5.3" text-anchor="start" font-weight="normal" font-family='"Liberation Sans", Arial, sans-serif' fill="#111" textLength="34.92" lengthAdjust="spacingAndGlyphs" stroke="#111" stroke-width="0.1">Odorranain-C1</text>
<path d="M492.1 43.7H498.8" stroke="#686868" stroke-width="0.6"/>
<path d="M495.45 44.75L496.50 42.86L494.40 42.86Z" fill="#686868"/>
<text x="502.70" y="45.65" font-size="5.3" text-anchor="start" font-weight="normal" font-family='"Liberation Sans", Arial, sans-serif' fill="#111" textLength="34.04" lengthAdjust="spacingAndGlyphs" stroke="#111" stroke-width="0.1">Brevinin-2DYb</text>
<path d="M492.1 52.0H498.8" stroke="#999" stroke-width="0.6"/>
<circle cx="495.45" cy="52.00" r="0.57" fill="#999"/>
<text x="502.70" y="53.95" font-size="5.3" text-anchor="start" font-weight="normal" font-family='"Liberation Sans", Arial, sans-serif' fill="#111" textLength="36.87" lengthAdjust="spacingAndGlyphs" stroke="#111" stroke-width="0.1">RANATUERIN2</text>
<text x="9.70" y="11.00" font-size="6.3" text-anchor="middle" font-weight="bold" font-family='"Liberation Serif", "Times New Roman", serif' fill="#000">A</text>
<g stroke="#111" stroke-width="0.9" fill="none">
<path d="M196.10 336.90V402.70H294.70"/>
<path d="M193.70 402.70H196.10"/>
<path d="M193.70 391.80H196.10"/>
<path d="M193.70 380.90H196.10"/>
<path d="M193.70 370.00H196.10"/>
<path d="M193.70 359.10H196.10"/>
<path d="M193.70 348.20H196.10"/>
<path d="M193.70 337.30H196.10"/>
<path d="M208.20 402.70v2.4"/>
<path d="M236.90 402.70v2.4"/>
<path d="M265.60 402.70v2.4"/>
<path d="M294.30 402.70v2.4"/>
</g>
<g stroke="#111" stroke-width="0.55" fill="none">
<path d="M194.70 397.25H196.10"/>
<path d="M194.70 386.35H196.10"/>
<path d="M194.70 375.45H196.10"/>
<path d="M194.70 364.55H196.10"/>
<path d="M194.70 353.65H196.10"/>
<path d="M194.70 342.75H196.10"/>
<path d="M196.78 402.70v1.5"/>
<path d="M199.56 402.70v1.5"/>
<path d="M201.83 402.70v1.5"/>
<path d="M203.75 402.70v1.5"/>
<path d="M205.42 402.70v1.5"/>
<path d="M206.89 402.70v1.5"/>
<path d="M216.84 402.70v1.5"/>
<path d="M221.89 402.70v1.5"/>
<path d="M225.48 402.70v1.5"/>
<path d="M228.26 402.70v1.5"/>
<path d="M230.53 402.70v1.5"/>
<path d="M232.45 402.70v1.5"/>
<path d="M234.12 402.70v1.5"/>
<path d="M235.59 402.70v1.5"/>
<path d="M245.54 402.70v1.5"/>
<path d="M250.59 402.70v1.5"/>
<path d="M254.18 402.70v1.5"/>
<path d="M256.96 402.70v1.5"/>
<path d="M259.23 402.70v1.5"/>
<path d="M261.15 402.70v1.5"/>
<path d="M262.82 402.70v1.5"/>
<path d="M264.29 402.70v1.5"/>
<path d="M274.24 402.70v1.5"/>
<path d="M279.29 402.70v1.5"/>
<path d="M282.88 402.70v1.5"/>
<path d="M285.66 402.70v1.5"/>
<path d="M287.93 402.70v1.5"/>
<path d="M289.85 402.70v1.5"/>
<path d="M291.52 402.70v1.5"/>
<path d="M292.99 402.70v1.5"/>
</g>
<text x="192.80" y="404.40" font-size="4.8" text-anchor="end" font-weight="bold" font-family='"Liberation Sans", Arial, sans-serif' fill="#000">0</text>
<text x="192.80" y="393.50" font-size="4.8" text-anchor="end" font-weight="bold" font-family='"Liberation Sans", Arial, sans-serif' fill="#000">20</text>
<text x="192.80" y="382.60" font-size="4.8" text-anchor="end" font-weight="bold" font-family='"Liberation Sans", Arial, sans-serif' fill="#000">40</text>
<text x="192.80" y="371.70" font-size="4.8" text-anchor="end" font-weight="bold" font-family='"Liberation Sans", Arial, sans-serif' fill="#000">60</text>
<text x="192.80" y="360.80" font-size="4.8" text-anchor="end" font-weight="bold" font-family='"Liberation Sans", Arial, sans-serif' fill="#000">80</text>
<text x="192.80" y="349.90" font-size="4.8" text-anchor="end" font-weight="bold" font-family='"Liberation Sans", Arial, sans-serif' fill="#000">100</text>
<text x="192.80" y="339.00" font-size="4.8" text-anchor="end" font-weight="bold" font-family='"Liberation Sans", Arial, sans-serif' fill="#000">120</text>
<text x="208.20" y="410.90" font-size="4.9" text-anchor="middle" font-weight="bold" font-family='"Liberation Sans", Arial, sans-serif' fill="#000">1</text>
<text x="236.90" y="410.90" font-size="4.9" text-anchor="middle" font-weight="bold" font-family='"Liberation Sans", Arial, sans-serif' fill="#000">10</text>
<text x="265.60" y="410.90" font-size="4.9" text-anchor="middle" font-weight="bold" font-family='"Liberation Sans", Arial, sans-serif' fill="#000">100</text>
<text x="294.30" y="410.90" font-size="4.9" text-anchor="middle" font-weight="bold" font-family='"Liberation Sans", Arial, sans-serif' fill="#000">1000</text>
<text x="246.85" y="419.10" font-size="5.4" text-anchor="middle" font-weight="bold" font-family='"Liberation Sans", Arial, sans-serif' fill="#000">Concentration(μM)</text>
<text x="181.30" y="370.00" font-size="5.45" text-anchor="middle" font-weight="bold" font-family='"Liberation Sans", Arial, sans-serif' fill="#000" transform="rotate(-90 181.30 370.00)">Inhibition Rate (%)</text>
<text x="246.30" y="328.40" font-size="6.3" text-anchor="middle" font-weight="bold" font-family='"Liberation Sans", Arial, sans-serif' fill="#000">293T</text>
<polyline points="199.56,402.70 208.20,402.15 216.84,401.61 225.48,401.06 234.12,400.52 242.76,399.97 251.40,398.34 260.04,395.07 268.68,390.71" fill="none" stroke="#999" stroke-width="0.55"/>
<g stroke="#999" stroke-width="0.45">
<path d="M199.56 401.61V402.70M198.46 401.61h2.2M198.46 402.70h2.2"/>
<path d="M208.20 400.52V402.70M207.10 400.52h2.2M207.10 402.70h2.2"/>
<path d="M216.84 399.97V402.70M215.74 399.97h2.2M215.74 402.70h2.2"/>
<path d="M225.48 398.88V402.70M224.38 398.88h2.2M224.38 402.70h2.2"/>
<path d="M234.12 398.34V402.70M233.02 398.34h2.2M233.02 402.70h2.2"/>
<path d="M242.76 398.34V401.61M241.66 398.34h2.2M241.66 401.61h2.2"/>
<path d="M251.40 396.70V399.97M250.30 396.70h2.2M250.30 399.97h2.2"/>
<path d="M260.04 393.44V396.70M258.94 393.44h2.2M258.94 396.70h2.2"/>
<path d="M268.68 388.53V392.89M267.58 388.53h2.2M267.58 392.89h2.2"/>
</g>
<polyline points="199.56,399.97 208.20,398.34 216.84,395.62 225.48,393.44 234.12,389.62 242.76,383.08 251.40,379.81 260.04,354.74 268.68,349.84" fill="none" stroke="#686868" stroke-width="0.55"/>
<g stroke="#686868" stroke-width="0.45">
<path d="M199.56 398.34V401.61M198.46 398.34h2.2M198.46 401.61h2.2"/>
<path d="M208.20 396.70V399.97M207.10 396.70h2.2M207.10 399.97h2.2"/>
<path d="M216.84 393.44V397.80M215.74 393.44h2.2M215.74 397.80h2.2"/>
<path d="M225.48 390.71V396.16M224.38 390.71h2.2M224.38 396.16h2.2"/>
<path d="M234.12 386.35V392.89M233.02 386.35h2.2M233.02 392.89h2.2"/>
<path d="M242.76 380.36V385.81M241.66 380.36h2.2M241.66 385.81h2.2"/>
<path d="M251.40 377.08V382.53M250.30 377.08h2.2M250.30 382.53h2.2"/>
<path d="M260.04 353.11V356.38M258.94 353.11h2.2M258.94 356.38h2.2"/>
<path d="M268.68 348.75V350.93M267.58 348.75h2.2M267.58 350.93h2.2"/>
</g>
<path d="M199.56 401.02L200.61 399.13L198.51 399.13Z" fill="#686868"/>
<path d="M208.20 399.39L209.25 397.50L207.15 397.50Z" fill="#686868"/>
<path d="M216.84 396.67L217.89 394.78L215.79 394.78Z" fill="#686868"/>
<path d="M225.48 394.49L226.53 392.60L224.43 392.60Z" fill="#686868"/>
<path d="M234.12 390.67L235.17 388.78L233.07 388.78Z" fill="#686868"/>
<path d="M242.76 384.13L243.81 382.24L241.71 382.24Z" fill="#686868"/>
<path d="M251.40 380.86L252.45 378.97L250.35 378.97Z" fill="#686868"/>
<path d="M260.04 355.79L261.09 353.90L258.99 353.90Z" fill="#686868"/>
<path d="M268.68 350.89L269.73 349.00L267.63 349.00Z" fill="#686868"/>
<polyline points="199.56,402.15 208.20,402.15 216.84,401.61 225.48,401.06 234.12,400.52 242.76,399.97 251.40,381.99 260.04,355.83 268.68,349.29" fill="none" stroke="#555" stroke-width="0.55"/>
<g stroke="#555" stroke-width="0.45">
<path d="M199.56 400.52V402.70M198.46 400.52h2.2M198.46 402.70h2.2"/>
<path d="M208.20 400.52V402.70M207.10 400.52h2.2M207.10 402.70h2.2"/>
<path d="M216.84 398.88V402.70M215.74 398.88h2.2M215.74 402.70h2.2"/>
<path d="M225.48 398.34V402.70M224.38 398.34h2.2M224.38 402.70h2.2"/>
<path d="M234.12 397.25V402.70M233.02 397.25h2.2M233.02 402.70h2.2"/>
<path d="M242.76 397.25V402.70M241.66 397.25h2.2M241.66 402.70h2.2"/>
<path d="M251.40 379.26V384.71M250.30 379.26h2.2M250.30 384.71h2.2"/>
<path d="M260.04 354.19V357.47M258.94 354.19h2.2M258.94 357.47h2.2"/>
<path d="M268.68 348.20V350.38M267.58 348.20h2.2M267.58 350.38h2.2"/>
</g>
<path d="M199.56 401.10L200.61 402.99L198.51 402.99Z" fill="#555"/>
<path d="M208.20 401.10L209.25 402.99L207.15 402.99Z" fill="#555"/>
<path d="M216.84 400.56L217.89 402.45L215.79 402.45Z" fill="#555"/>
<path d="M225.48 400.01L226.53 401.90L224.43 401.90Z" fill="#555"/>
<path d="M234.12 399.47L235.17 401.36L233.07 401.36Z" fill="#555"/>
<path d="M242.76 398.92L243.81 400.81L241.71 400.81Z" fill="#555"/>
<path d="M251.40 380.94L252.45 382.83L250.35 382.83Z" fill="#555"/>
<path d="M260.04 354.78L261.09 356.67L258.99 356.67Z" fill="#555"/>
<path d="M268.68 348.24L269.73 350.13L267.63 350.13Z" fill="#555"/>
<polyline points="199.56,401.61 208.20,400.52 216.84,398.88 225.48,397.80 234.12,396.16 242.76,393.44 251.40,390.71 260.04,366.19 268.68,349.84" fill="none" stroke="#1a1a1a" stroke-width="0.55"/>
<g stroke="#1a1a1a" stroke-width="0.45">
<path d="M199.56 399.43V402.70M198.46 399.43h2.2M198.46 402.70h2.2"/>
<path d="M208.20 397.80V402.70M207.10 397.80h2.2M207.10 402.70h2.2"/>
<path d="M216.84 395.62V402.15M215.74 395.62h2.2M215.74 402.15h2.2"/>
<path d="M225.48 393.44V402.15M224.38 393.44h2.2M224.38 402.15h2.2"/>
<path d="M234.12 392.89V399.43M233.02 392.89h2.2M233.02 399.43h2.2"/>
<path d="M242.76 390.71V396.16M241.66 390.71h2.2M241.66 396.16h2.2"/>
<path d="M251.40 387.99V393.44M250.30 387.99h2.2M250.30 393.44h2.2"/>
<path d="M260.04 364.55V367.82M258.94 364.55h2.2M258.94 367.82h2.2"/>
<path d="M268.68 348.75V350.93M267.58 348.75h2.2M267.58 350.93h2.2"/>
</g>
<circle cx="199.56" cy="401.61" r="1.00" fill="#1a1a1a"/>
<circle cx="208.20" cy="400.52" r="1.00" fill="#1a1a1a"/>
<circle cx="216.84" cy="398.88" r="1.00" fill="#1a1a1a"/>
<circle cx="225.48" cy="397.80" r="1.00" fill="#1a1a1a"/>
<circle cx="234.12" cy="396.16" r="1.00" fill="#1a1a1a"/>
<circle cx="242.76" cy="393.44" r="1.00" fill="#1a1a1a"/>
<circle cx="251.40" cy="390.71" r="1.00" fill="#1a1a1a"/>
<circle cx="260.04" cy="366.19" r="1.00" fill="#1a1a1a"/>
<circle cx="268.68" cy="349.84" r="1.00" fill="#1a1a1a"/>
<polyline points="199.56,397.25 208.20,393.44 216.84,385.81 225.48,382.53 234.12,366.19 242.76,360.74 251.40,353.65 260.04,348.75 268.68,348.20" fill="none" stroke="#000" stroke-width="0.7"/>
<g stroke="#000" stroke-width="0.45">
<path d="M199.56 394.52V399.97M198.46 394.52h2.2M198.46 399.97h2.2"/>
<path d="M208.20 390.71V396.16M207.10 390.71h2.2M207.10 396.16h2.2"/>
<path d="M216.84 383.62V387.99M215.74 383.62h2.2M215.74 387.99h2.2"/>
<path d="M225.48 380.90V384.17M224.38 380.90h2.2M224.38 384.17h2.2"/>
<path d="M234.12 363.46V368.91M233.02 363.46h2.2M233.02 368.91h2.2"/>
<path d="M242.76 359.64V361.82M241.66 359.64h2.2M241.66 361.82h2.2"/>
<path d="M251.40 353.11V354.19M250.30 353.11h2.2M250.30 354.19h2.2"/>
<path d="M260.04 348.20V349.29M258.94 348.20h2.2M258.94 349.29h2.2"/>
<path d="M268.68 347.66V348.75M267.58 347.66h2.2M267.58 348.75h2.2"/>
</g>
<rect x="198.11" y="395.80" width="2.90" height="2.90" rx="0.5" fill="#000"/>
<rect x="206.75" y="391.99" width="2.90" height="2.90" rx="0.5" fill="#000"/>
<rect x="215.39" y="384.36" width="2.90" height="2.90" rx="0.5" fill="#000"/>
<rect x="224.03" y="381.08" width="2.90" height="2.90" rx="0.5" fill="#000"/>
<rect x="232.67" y="364.74" width="2.90" height="2.90" rx="0.5" fill="#000"/>
<rect x="241.31" y="359.29" width="2.90" height="2.90" rx="0.5" fill="#000"/>
<rect x="249.95" y="352.20" width="2.90" height="2.90" rx="0.5" fill="#000"/>
<rect x="258.59" y="347.30" width="2.90" height="2.90" rx="0.5" fill="#000"/>
<rect x="267.23" y="346.75" width="2.90" height="2.90" rx="0.5" fill="#000"/>
<path d="M278.5 340.7H284.6" stroke="#1a1a1a" stroke-width="0.6"/>
<circle cx="281.55" cy="340.70" r="1.00" fill="#1a1a1a"/>
<text x="288.70" y="342.65" font-size="5.3" text-anchor="start" font-weight="normal" font-family='"Liberation Sans", Arial, sans-serif' fill="#111" textLength="44.80" lengthAdjust="spacingAndGlyphs" stroke="#111" stroke-width="0.1">RANATUERIN-2Lb</text>
<path d="M278.5 350.0H284.6" stroke="#000" stroke-width="0.6"/>
<rect x="280.15" y="348.60" width="2.80" height="2.80" rx="0.5" fill="#000"/>
<text x="288.70" y="351.95" font-size="5.3" text-anchor="start" font-weight="normal" font-family='"Liberation Sans", Arial, sans-serif' fill="#111" textLength="34.27" lengthAdjust="spacingAndGlyphs" stroke="#111" stroke-width="0.1">Brevinin-2DYd</text>
<path d="M278.5 358.8H284.6" stroke="#555" stroke-width="0.6"/>
<path d="M281.55 357.75L282.60 359.64L280.50 359.64Z" fill="#555"/>
<text x="288.70" y="360.75" font-size="5.3" text-anchor="start" font-weight="normal" font-family='"Liberation Sans", Arial, sans-serif' fill="#111" textLength="35.16" lengthAdjust="spacingAndGlyphs" stroke="#111" stroke-width="0.1">Odorranain-C1</text>
<path d="M278.5 367.8H284.6" stroke="#686868" stroke-width="0.6"/>
<path d="M281.55 368.85L282.60 366.96L280.50 366.96Z" fill="#686868"/>
<text x="288.70" y="369.75" font-size="5.3" text-anchor="start" font-weight="normal" font-family='"Liberation Sans", Arial, sans-serif' fill="#111" textLength="34.27" lengthAdjust="spacingAndGlyphs" stroke="#111" stroke-width="0.1">Brevinin-2DYb</text>
<path d="M278.5 376.5H284.6" stroke="#999" stroke-width="0.6"/>
<circle cx="281.55" cy="376.50" r="0.57" fill="#999"/>
<text x="288.70" y="378.45" font-size="5.3" text-anchor="start" font-weight="normal" font-family='"Liberation Sans", Arial, sans-serif' fill="#111" textLength="37.12" lengthAdjust="spacingAndGlyphs" stroke="#111" stroke-width="0.1">RANATUERIN2</text>
<text x="165.50" y="330.90" font-size="6.5" text-anchor="middle" font-weight="bold" font-family='"Liberation Serif", "Times New Roman", serif' fill="#000">D</text>
<rect x="401.90" y="388.97" width="3.1" height="12.22" fill="#3d8ff2"/>
<rect x="406.30" y="364.52" width="3.1" height="36.67" fill="#ea2a30"/>
<rect x="410.70" y="371.05" width="3.1" height="30.15" fill="#a9e0c9"/>
<rect x="415.10" y="352.30" width="3.1" height="48.90" fill="#e8c6f3"/>
<rect x="419.50" y="349.86" width="3.1" height="51.34" fill="#fbb466"/>
<rect x="426.50" y="398.75" width="3.1" height="2.44" fill="#3d8ff2"/>
<rect x="430.90" y="380.01" width="3.1" height="21.19" fill="#ea2a30"/>
<rect x="435.30" y="384.90" width="3.1" height="16.30" fill="#a9e0c9"/>
<rect x="439.70" y="394.68" width="3.1" height="6.52" fill="#e8c6f3"/>
<rect x="444.10" y="396.31" width="3.1" height="4.89" fill="#fbb466"/>
<rect x="451.10" y="379.19" width="3.1" height="22.00" fill="#3d8ff2"/>
<rect x="455.50" y="367.78" width="3.1" height="33.41" fill="#ea2a30"/>
<rect x="459.90" y="358.00" width="3.1" height="43.19" fill="#a9e0c9"/>
<rect x="464.30" y="356.38" width="3.1" height="44.82" fill="#e8c6f3"/>
<rect x="468.70" y="361.26" width="3.1" height="39.93" fill="#fbb466"/>
<rect x="475.70" y="381.64" width="3.1" height="19.56" fill="#3d8ff2"/>
<rect x="480.10" y="370.23" width="3.1" height="30.97" fill="#ea2a30"/>
<rect x="484.50" y="382.45" width="3.1" height="18.74" fill="#a9e0c9"/>
<rect x="488.90" y="372.68" width="3.1" height="28.52" fill="#e8c6f3"/>
<rect x="493.30" y="360.45" width="3.1" height="40.75" fill="#fbb466"/>
<g stroke="#1a1a1a" stroke-width="0.9" fill="none">
<path d="M399.6 335.6V401.2H499"/>
<path d="M397.20000000000005 401.20H399.6"/>
<path d="M397.20000000000005 393.05H399.6"/>
<path d="M397.20000000000005 384.90H399.6"/>
<path d="M397.20000000000005 376.75H399.6"/>
<path d="M397.20000000000005 368.60H399.6"/>
<path d="M397.20000000000005 360.45H399.6"/>
<path d="M397.20000000000005 352.30H399.6"/>
<path d="M397.20000000000005 344.15H399.6"/>
<path d="M397.20000000000005 336.00H399.6"/>
<path d="M411.80 401.2v2.6"/>
<path d="M436.40 401.2v2.6"/>
<path d="M461.00 401.2v2.6"/>
<path d="M485.60 401.2v2.6"/>
</g>
<g stroke="#1a1a1a" stroke-width="0.5" fill="none">
<path d="M398.20000000000005 397.12H399.6"/>
<path d="M398.20000000000005 388.97H399.6"/>
<path d="M398.20000000000005 380.82H399.6"/>
<path d="M398.20000000000005 372.68H399.6"/>
<path d="M398.20000000000005 364.52H399.6"/>
<path d="M398.20000000000005 356.38H399.6"/>
<path d="M398.20000000000005 348.23H399.6"/>
<path d="M398.20000000000005 340.07H399.6"/>
</g>
<text x="396.50" y="402.90" font-size="4.9" text-anchor="end" font-weight="bold" font-family='"Liberation Sans", Arial, sans-serif' fill="#000">0</text>
<text x="396.50" y="394.75" font-size="4.9" text-anchor="end" font-weight="bold" font-family='"Liberation Sans", Arial, sans-serif' fill="#000">10</text>
<text x="396.50" y="386.60" font-size="4.9" text-anchor="end" font-weight="bold" font-family='"Liberation Sans", Arial, sans-serif' fill="#000">20</text>
<text x="396.50" y="378.45" font-size="4.9" text-anchor="end" font-weight="bold" font-family='"Liberation Sans", Arial, sans-serif' fill="#000">30</text>
<text x="396.50" y="370.30" font-size="4.9" text-anchor="end" font-weight="bold" font-family='"Liberation Sans", Arial, sans-serif' fill="#000">40</text>
<text x="396.50" y="362.15" font-size="4.9" text-anchor="end" font-weight="bold" font-family='"Liberation Sans", Arial, sans-serif' fill="#000">50</text>
<text x="396.50" y="354.00" font-size="4.9" text-anchor="end" font-weight="bold" font-family='"Liberation Sans", Arial, sans-serif' fill="#000">60</text>
<text x="396.50" y="345.85" font-size="4.9" text-anchor="end" font-weight="bold" font-family='"Liberation Sans", Arial, sans-serif' fill="#000">70</text>
<text x="396.50" y="337.70" font-size="4.9" text-anchor="end" font-weight="bold" font-family='"Liberation Sans", Arial, sans-serif' fill="#000">80</text>
<text x="414.50" y="408.00" font-size="5.05" text-anchor="end" font-weight="bold" font-family='"Liberation Sans", Arial, sans-serif' fill="#000" transform="rotate(-45 414.50 408.00)">RANATUERIN-2Lb</text>
<text x="439.10" y="408.00" font-size="5.05" text-anchor="end" font-weight="bold" font-family='"Liberation Sans", Arial, sans-serif' fill="#000" transform="rotate(-45 439.10 408.00)">Brevinin-2DYd</text>
<text x="463.70" y="408.00" font-size="5.05" text-anchor="end" font-weight="bold" font-family='"Liberation Sans", Arial, sans-serif' fill="#000" transform="rotate(-45 463.70 408.00)">Odorranain-C1</text>
<text x="488.30" y="408.00" font-size="5.05" text-anchor="end" font-weight="bold" font-family='"Liberation Sans", Arial, sans-serif' fill="#000" transform="rotate(-45 488.30 408.00)">Brevinin-2DYb</text>
<text x="389.00" y="368.70" font-size="5.55" text-anchor="middle" font-weight="bold" font-family='"Liberation Sans", Arial, sans-serif' fill="#000" transform="rotate(-90 389.00 368.70)">IC50 Value (μM)</text>
<rect x="512.9" y="338.40" width="7.1" height="3.4" fill="#3d8ff2"/>
<text x="523.90" y="342.05" font-size="5.45" text-anchor="start" font-weight="normal" font-family='"Liberation Sans", Arial, sans-serif' fill="#111" stroke="#111" stroke-width="0.1">A549</text>
<rect x="512.9" y="347.40" width="7.1" height="3.4" fill="#ea2a30"/>
<text x="523.90" y="351.05" font-size="5.45" text-anchor="start" font-weight="normal" font-family='"Liberation Sans", Arial, sans-serif' fill="#111" stroke="#111" stroke-width="0.1">MCF7</text>
<rect x="512.9" y="356.00" width="7.1" height="3.4" fill="#a9e0c9"/>
<text x="523.90" y="359.65" font-size="5.45" text-anchor="start" font-weight="normal" font-family='"Liberation Sans", Arial, sans-serif' fill="#111" stroke="#111" stroke-width="0.1">HeLa</text>
<rect x="512.9" y="364.60" width="7.1" height="3.4" fill="#e8c6f3"/>
<text x="523.90" y="368.25" font-size="5.45" text-anchor="start" font-weight="normal" font-family='"Liberation Sans", Arial, sans-serif' fill="#111" stroke="#111" stroke-width="0.1">LoVo</text>
<rect x="512.9" y="373.40" width="7.1" height="3.4" fill="#fbb466"/>
<text x="523.90" y="377.05" font-size="5.45" text-anchor="start" font-weight="normal" font-family='"Liberation Sans", Arial, sans-serif' fill="#111" stroke="#111" stroke-width="0.1">293T</text>
<text x="373.20" y="331.30" font-size="7.3" text-anchor="middle" font-weight="bold" font-family='"Liberation Serif", "Times New Roman", serif' fill="#000">E</text>
<path d="M195.1 485.30H292.84" stroke="#444" stroke-width="0.5" stroke-dasharray="0.8 0.8"/>
<text x="191.60" y="516.20" font-size="4.9" text-anchor="end" font-weight="bold" font-family='"Liberation Sans", Arial, sans-serif' fill="#000">-10</text>
<text x="191.60" y="501.60" font-size="4.9" text-anchor="end" font-weight="bold" font-family='"Liberation Sans", Arial, sans-serif' fill="#000">0</text>
<text x="191.60" y="487.00" font-size="4.9" text-anchor="end" font-weight="bold" font-family='"Liberation Sans", Arial, sans-serif' fill="#000">10</text>
<text x="191.60" y="472.40" font-size="4.9" text-anchor="end" font-weight="bold" font-family='"Liberation Sans", Arial, sans-serif' fill="#000">20</text>
<text x="191.60" y="457.80" font-size="4.9" text-anchor="end" font-weight="bold" font-family='"Liberation Sans", Arial, sans-serif' fill="#000">30</text>
<text x="191.60" y="443.20" font-size="4.9" text-anchor="end" font-weight="bold" font-family='"Liberation Sans", Arial, sans-serif' fill="#000">40</text>
<text x="205.96" y="509.50" font-size="4.7" text-anchor="middle" font-weight="bold" font-family='"Liberation Sans", Arial, sans-serif' fill="#000">2</text>
<text x="216.82" y="509.50" font-size="4.7" text-anchor="middle" font-weight="bold" font-family='"Liberation Sans", Arial, sans-serif' fill="#000">4</text>
<text x="227.68" y="509.50" font-size="4.7" text-anchor="middle" font-weight="bold" font-family='"Liberation Sans", Arial, sans-serif' fill="#000">8</text>
<text x="238.54" y="509.50" font-size="4.7" text-anchor="middle" font-weight="bold" font-family='"Liberation Sans", Arial, sans-serif' fill="#000">16</text>
<text x="249.40" y="509.50" font-size="4.7" text-anchor="middle" font-weight="bold" font-family='"Liberation Sans", Arial, sans-serif' fill="#000">32</text>
<text x="260.26" y="509.50" font-size="4.7" text-anchor="middle" font-weight="bold" font-family='"Liberation Sans", Arial, sans-serif' fill="#000">64</text>
<text x="271.12" y="509.50" font-size="4.7" text-anchor="middle" font-weight="bold" font-family='"Liberation Sans", Arial, sans-serif' fill="#000">128</text>
<text x="281.98" y="509.50" font-size="4.7" text-anchor="middle" font-weight="bold" font-family='"Liberation Sans", Arial, sans-serif' fill="#000">256</text>
<text x="292.84" y="509.50" font-size="4.7" text-anchor="middle" font-weight="bold" font-family='"Liberation Sans", Arial, sans-serif' fill="#000">512</text>
<text x="244.50" y="518.70" font-size="5.55" text-anchor="middle" font-weight="bold" font-family='"Liberation Sans", Arial, sans-serif' fill="#000">Concentration(μM)</text>
<text x="174.60" y="478.00" font-size="6.05" text-anchor="middle" font-weight="bold" font-family='"Liberation Sans", Arial, sans-serif' fill="#000" transform="rotate(-90 174.60 478.00)">Hemolytic rate(%)</text>
<polyline points="205.96,499.90 216.82,499.90 227.68,499.90 238.54,499.90 249.40,499.90 260.26,499.90 271.12,499.61 281.98,499.17" fill="none" stroke="#fbb466" stroke-width="0.7"/>
<polyline points="205.96,499.90 216.82,499.90 227.68,499.90 238.54,499.90 249.40,499.90 260.26,499.46 271.12,498.44 281.98,495.81" fill="none" stroke="#e8c6f3" stroke-width="0.7"/>
<path d="M205.96 501.20L207.26 498.86L204.66 498.86Z" fill="#e8c6f3"/>
<path d="M216.82 501.20L218.12 498.86L215.52 498.86Z" fill="#e8c6f3"/>
<path d="M227.68 501.20L228.98 498.86L226.38 498.86Z" fill="#e8c6f3"/>
<path d="M238.54 501.20L239.84 498.86L237.24 498.86Z" fill="#e8c6f3"/>
<path d="M249.40 501.20L250.70 498.86L248.10 498.86Z" fill="#e8c6f3"/>
<path d="M260.26 500.76L261.56 498.42L258.96 498.42Z" fill="#e8c6f3"/>
<path d="M271.12 499.74L272.42 497.40L269.82 497.40Z" fill="#e8c6f3"/>
<path d="M281.98 497.11L283.28 494.77L280.68 494.77Z" fill="#e8c6f3"/>
<polyline points="205.96,499.90 216.82,499.90 227.68,499.90 238.54,499.90 249.40,499.75 260.26,499.61 271.12,499.17 281.98,496.98" fill="none" stroke="#a9e0c9" stroke-width="0.7"/>
<path d="M205.96 498.60L207.26 500.94L204.66 500.94Z" fill="#a9e0c9"/>
<path d="M216.82 498.60L218.12 500.94L215.52 500.94Z" fill="#a9e0c9"/>
<path d="M227.68 498.60L228.98 500.94L226.38 500.94Z" fill="#a9e0c9"/>
<path d="M238.54 498.60L239.84 500.94L237.24 500.94Z" fill="#a9e0c9"/>
<path d="M249.40 498.45L250.70 500.79L248.10 500.79Z" fill="#a9e0c9"/>
<path d="M260.26 498.31L261.56 500.65L258.96 500.65Z" fill="#a9e0c9"/>
<path d="M271.12 497.87L272.42 500.21L269.82 500.21Z" fill="#a9e0c9"/>
<path d="M281.98 495.68L283.28 498.02L280.68 498.02Z" fill="#a9e0c9"/>
<polyline points="205.96,501.21 216.82,501.21 227.68,501.07 238.54,500.92 249.40,500.92 260.26,500.63 271.12,499.46 281.98,497.86" fill="none" stroke="#3d8ff2" stroke-width="0.7"/>
<circle cx="205.96" cy="501.21" r="1.23" fill="#3d8ff2"/>
<circle cx="216.82" cy="501.21" r="1.23" fill="#3d8ff2"/>
<circle cx="227.68" cy="501.07" r="1.23" fill="#3d8ff2"/>
<circle cx="238.54" cy="500.92" r="1.23" fill="#3d8ff2"/>
<circle cx="249.40" cy="500.92" r="1.23" fill="#3d8ff2"/>
<circle cx="260.26" cy="500.63" r="1.23" fill="#3d8ff2"/>
<circle cx="271.12" cy="499.46" r="1.23" fill="#3d8ff2"/>
<circle cx="281.98" cy="497.86" r="1.23" fill="#3d8ff2"/>
<polyline points="205.96,499.90 216.82,500.34 227.68,499.90 238.54,498.88 249.40,496.98 260.26,491.14 271.12,477.27 281.98,454.64" fill="none" stroke="#ea2a30" stroke-width="0.55"/>
<rect x="204.66" y="498.60" width="2.60" height="2.60" rx="0.5" fill="#ea2a30"/>
<rect x="215.52" y="499.04" width="2.60" height="2.60" rx="0.5" fill="#ea2a30"/>
<rect x="226.38" y="498.60" width="2.60" height="2.60" rx="0.5" fill="#ea2a30"/>
<rect x="237.24" y="497.58" width="2.60" height="2.60" rx="0.5" fill="#ea2a30"/>
<rect x="248.10" y="495.68" width="2.60" height="2.60" rx="0.5" fill="#ea2a30"/>
<rect x="258.96" y="489.84" width="2.60" height="2.60" rx="0.5" fill="#ea2a30"/>
<rect x="269.82" y="475.97" width="2.60" height="2.60" rx="0.5" fill="#ea2a30"/>
<rect x="280.68" y="453.34" width="2.60" height="2.60" rx="0.5" fill="#ea2a30"/>
<g stroke="#1a1a1a" stroke-width="1.0" fill="none">
<path d="M195.1 441.00V515.00M195.1 499.9H293.34"/>
<path d="M192.7 514.50H195.1"/>
<path d="M192.7 499.90H195.1"/>
<path d="M192.7 485.30H195.1"/>
<path d="M192.7 470.70H195.1"/>
<path d="M192.7 456.10H195.1"/>
<path d="M192.7 441.50H195.1"/>
<path d="M205.96 499.9v2.4"/>
<path d="M216.82 499.9v2.4"/>
<path d="M227.68 499.9v2.4"/>
<path d="M238.54 499.9v2.4"/>
<path d="M249.40 499.9v2.4"/>
<path d="M260.26 499.9v2.4"/>
<path d="M271.12 499.9v2.4"/>
<path d="M281.98 499.9v2.4"/>
<path d="M292.84 499.9v2.4"/>
</g>
<g stroke="#1a1a1a" stroke-width="0.5" fill="none">
<path d="M193.7 511.58H195.1"/>
<path d="M193.7 508.66H195.1"/>
<path d="M193.7 505.74H195.1"/>
<path d="M193.7 502.82H195.1"/>
<path d="M193.7 496.98H195.1"/>
<path d="M193.7 494.06H195.1"/>
<path d="M193.7 491.14H195.1"/>
<path d="M193.7 488.22H195.1"/>
<path d="M193.7 482.38H195.1"/>
<path d="M193.7 479.46H195.1"/>
<path d="M193.7 476.54H195.1"/>
<path d="M193.7 473.62H195.1"/>
<path d="M193.7 467.78H195.1"/>
<path d="M193.7 464.86H195.1"/>
<path d="M193.7 461.94H195.1"/>
<path d="M193.7 459.02H195.1"/>
<path d="M193.7 453.18H195.1"/>
<path d="M193.7 450.26H195.1"/>
<path d="M193.7 447.34H195.1"/>
<path d="M193.7 444.42H195.1"/>
</g>
<path d="M205.96 502.65L207.21 500.40L204.71 500.40Z" fill="#3d8ff2"/>
<path d="M216.82 502.65L218.07 500.40L215.57 500.40Z" fill="#3d8ff2"/>
<path d="M227.68 502.65L228.93 500.40L226.43 500.40Z" fill="#3d8ff2"/>
<path d="M238.54 502.65L239.79 500.40L237.29 500.40Z" fill="#3d8ff2"/>
<path d="M249.40 502.65L250.65 500.40L248.15 500.40Z" fill="#3d8ff2"/>
<path d="M260.26 502.65L261.51 500.40L259.01 500.40Z" fill="#3d8ff2"/>
<rect x="237.24" y="497.58" width="2.60" height="2.60" rx="0.5" fill="#ea2a30"/>
<rect x="248.10" y="495.68" width="2.60" height="2.60" rx="0.5" fill="#ea2a30"/>
<rect x="258.96" y="489.84" width="2.60" height="2.60" rx="0.5" fill="#ea2a30"/>
<rect x="269.82" y="475.97" width="2.60" height="2.60" rx="0.5" fill="#ea2a30"/>
<rect x="280.68" y="453.34" width="2.60" height="2.60" rx="0.5" fill="#ea2a30"/>
<g stroke="#ea2a30" stroke-width="0.5">
<path d="M271.12 474.35V480.19M269.92 474.35h2.4M269.92 480.19h2.4"/>
<path d="M281.98 453.18V456.10M280.78 453.18h2.4M280.78 456.10h2.4"/>
<path d="M260.26 489.97V492.31M259.06 489.97h2.4M259.06 492.31h2.4"/>
</g>
<g stroke="#e8c6f3" stroke-width="0.5"><path d="M281.98 494.06V497.56M280.78 494.06h2.4"/></g>
<path d="M307.8 445.9H314.6" stroke="#3d8ff2" stroke-width="0.7"/>
<circle cx="311.20" cy="445.90" r="1.23" fill="#3d8ff2"/>
<text x="318.60" y="447.85" font-size="5.3" text-anchor="start" font-weight="normal" font-family='"Liberation Sans", Arial, sans-serif' fill="#111" textLength="44.80" lengthAdjust="spacingAndGlyphs" stroke="#111" stroke-width="0.1">RANATUERIN-2Lb</text>
<path d="M307.8 455.8H314.6" stroke="#ea2a30" stroke-width="0.7"/>
<rect x="309.90" y="454.50" width="2.60" height="2.60" rx="0.5" fill="#ea2a30"/>
<text x="318.60" y="457.75" font-size="5.3" text-anchor="start" font-weight="normal" font-family='"Liberation Sans", Arial, sans-serif' fill="#111" textLength="34.27" lengthAdjust="spacingAndGlyphs" stroke="#111" stroke-width="0.1">Brevinin-2DYd</text>
<path d="M307.8 465.8H314.6" stroke="#a9e0c9" stroke-width="0.7"/>
<path d="M311.20 464.50L312.50 466.84L309.90 466.84Z" fill="#a9e0c9"/>
<text x="318.60" y="467.75" font-size="5.3" text-anchor="start" font-weight="normal" font-family='"Liberation Sans", Arial, sans-serif' fill="#111" textLength="35.16" lengthAdjust="spacingAndGlyphs" stroke="#111" stroke-width="0.1">Odorranain-C1</text>
<path d="M307.8 475.7H314.6" stroke="#e8c6f3" stroke-width="0.7"/>
<path d="M311.20 477.00L312.50 474.66L309.90 474.66Z" fill="#e8c6f3"/>
<text x="318.60" y="477.65" font-size="5.3" text-anchor="start" font-weight="normal" font-family='"Liberation Sans", Arial, sans-serif' fill="#111" textLength="34.27" lengthAdjust="spacingAndGlyphs" stroke="#111" stroke-width="0.1">Brevinin-2DYb</text>
<path d="M307.8 485.6H314.6" stroke="#fbb466" stroke-width="0.7"/>
<circle cx="311.20" cy="485.60" r="0.76" fill="#fbb466"/>
<text x="318.60" y="487.55" font-size="5.3" text-anchor="start" font-weight="normal" font-family='"Liberation Sans", Arial, sans-serif' fill="#111" textLength="37.12" lengthAdjust="spacingAndGlyphs" stroke="#111" stroke-width="0.1">RANATUERIN2</text>
<text x="166.20" y="435.70" font-size="7.0" text-anchor="middle" font-weight="bold" font-family='"Liberation Serif", "Times New Roman", serif' fill="#000">F</text>
</svg>
</body></html>
